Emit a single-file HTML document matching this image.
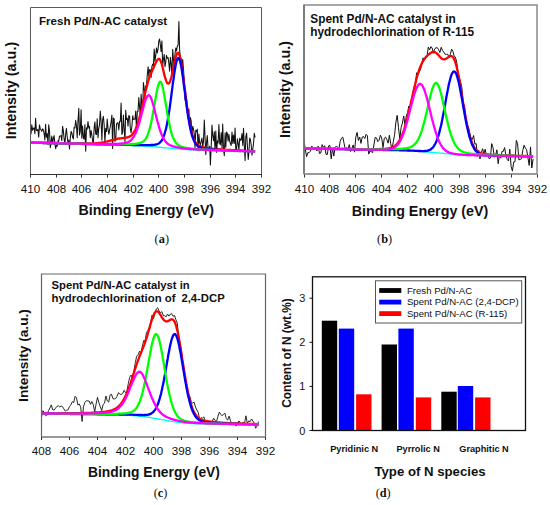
<!DOCTYPE html>
<html><head><meta charset="utf-8"><style>
html,body{margin:0;padding:0;background:#fff;}
svg{display:block;font-family:"Liberation Sans",sans-serif;}
text{fill:#111;}
</style></head><body>
<svg width="550" height="505" viewBox="0 0 550 505">
<rect width="550" height="505" fill="#fff"/>
<clipPath id="ca"><rect x="30.5" y="7.5" width="231" height="167"/></clipPath>
<g clip-path="url(#ca)">
<path d="M255.1,137.5 254.3,133.3 253.5,143.9 252.8,149.1 252.0,155.3 251.2,145.0 250.5,139.7 249.7,138.0 248.9,152.6 248.2,159.5 247.4,145.9 246.6,133.0 245.8,136.9 245.1,160.6 244.3,145.0 243.5,128.3 242.8,145.5 242.0,133.5 241.2,139.7 240.5,140.4 239.7,138.2 238.9,150.3 238.1,143.2 237.4,138.9 236.6,148.8 235.8,151.7 235.1,128.0 234.3,143.4 233.5,135.0 232.8,143.4 232.0,132.0 231.2,145.5 230.4,143.5 229.7,141.2 228.9,134.3 228.1,141.1 227.4,133.8 226.6,132.0 225.8,147.1 225.1,132.9 224.3,155.8 223.5,149.2 222.7,124.1 222.0,148.0 221.2,132.6 220.4,144.8 219.7,143.6 218.9,124.5 218.1,142.9 217.4,140.8 216.6,152.4 215.8,130.9 215.0,151.1 214.3,131.7 213.5,140.8 212.7,135.0 212.0,125.0 211.2,146.5 210.4,165.1 209.7,146.2 208.9,149.9 208.1,149.3 207.3,135.6 206.6,141.9 205.8,154.6 205.0,136.6 204.3,120.0 203.5,141.5 202.7,147.8 202.0,138.1 201.2,141.1 200.4,144.6 199.6,142.8 198.9,134.0 198.1,150.6 197.3,129.1 196.6,131.7 195.8,130.3 195.0,148.2 194.3,134.2 193.5,129.0 192.7,126.3 191.9,135.8 191.2,121.1 190.4,117.6 189.6,127.2 188.9,109.0 188.1,111.8 187.3,108.2 186.6,99.5 185.8,96.7 185.0,100.1 184.2,79.7 183.5,69.5 182.7,59.6 181.9,65.6 181.2,58.3 180.4,58.5 179.6,49.6 178.9,21.5 178.1,45.1 177.3,46.1 176.5,51.0 175.8,48.1 175.0,53.8 174.2,68.4 173.5,60.0 172.7,49.2 171.9,75.3 171.2,64.5 170.4,57.4 169.6,71.1 168.8,62.8 168.1,57.6 167.3,58.1 166.5,55.3 165.8,61.8 165.0,66.7 164.2,54.4 163.5,58.5 162.7,65.7 161.9,40.9 161.1,51.6 160.4,45.2 159.6,39.0 158.8,41.1 158.1,49.0 157.3,53.0 156.5,47.9 155.8,54.9 155.0,61.4 154.2,49.0 153.4,65.8 152.7,64.2 151.9,66.4 151.1,77.5 150.4,70.0 149.6,69.5 148.8,76.1 148.1,66.8 147.3,74.7 146.5,85.1 145.7,86.4 145.0,96.3 144.2,88.3 143.4,82.5 142.7,110.5 141.9,105.3 141.1,94.3 140.4,115.7 139.6,107.3 138.8,97.6 138.0,111.4 137.3,111.6 136.5,130.4 135.7,111.1 135.0,119.1 134.2,119.3 133.4,119.4 132.7,115.7 131.9,126.2 131.1,132.8 130.3,128.6 129.6,116.1 128.8,115.6 128.0,126.3 127.3,118.2 126.5,119.5 125.7,110.3 125.0,141.6 124.2,129.8 123.4,115.1 122.6,132.4 121.9,134.4 121.1,103.0 120.3,121.6 119.6,121.2 118.8,129.9 118.0,122.7 117.3,122.7 116.5,124.2 115.7,140.2 114.9,141.3 114.2,118.9 113.4,118.0 112.6,148.4 111.9,115.0 111.1,121.9 110.3,126.5 109.6,129.9 108.8,134.3 108.0,128.7 107.2,119.0 106.5,131.6 105.7,128.4 104.9,142.4 104.2,125.5 103.4,116.4 102.6,119.9 101.9,140.3 101.1,122.0 100.3,111.0 99.5,124.8 98.8,128.3 98.0,137.8 97.2,118.8 96.5,134.6 95.7,134.1 94.9,121.9 94.2,127.4 93.4,143.0 92.6,141.0 91.8,134.2 91.1,130.6 90.3,137.6 89.5,126.4 88.8,127.9 88.0,121.5 87.2,129.2 86.5,127.7 85.7,151.2 84.9,124.6 84.1,139.2 83.4,138.1 82.6,126.0 81.8,138.2 81.1,109.7 80.3,131.1 79.5,135.1 78.8,108.2 78.0,121.0 77.2,137.7 76.4,125.4 75.7,120.3 74.9,128.0 74.1,127.3 73.4,139.0 72.6,137.0 71.8,132.7 71.1,131.4 70.3,137.9 69.5,149.0 68.7,140.1 68.0,143.3 67.2,136.7 66.4,128.2 65.7,133.7 64.9,144.2 64.1,138.7 63.4,131.2 62.6,126.3 61.8,140.7 61.0,135.6 60.3,136.1 59.5,136.2 58.7,141.2 58.0,140.8 57.2,146.2 56.4,145.4 55.7,148.7 54.9,144.2 54.1,135.6 53.3,138.7 52.6,142.8 51.8,136.0 51.0,143.5 50.3,147.6 49.5,131.1 48.7,124.8 48.0,144.8 47.2,133.6 46.4,137.3 45.6,124.3 44.9,140.1 44.1,133.5 43.3,129.8 42.6,128.9 41.8,131.3 41.0,129.6 40.3,129.1 39.5,124.9 38.7,137.1 37.9,129.3 37.2,130.6 36.4,130.5 35.6,118.2 34.9,133.7 34.1,127.8 33.3,128.5 32.6,130.2 31.8,124.8 31.0,134.3" fill="none" stroke="#111" stroke-width="1.05" stroke-linejoin="round"/>
<path d="M255.1,151.1 254.6,151.1 254.1,151.1 253.5,151.1 253.0,151.0 252.5,151.0 252.0,151.0 251.5,151.0 251.0,151.0 250.5,150.9 249.9,150.9 249.4,150.9 248.9,150.9 248.4,150.9 247.9,150.8 247.4,150.8 246.9,150.8 246.4,150.8 245.8,150.8 245.3,150.7 244.8,150.7 244.3,150.7 243.8,150.7 243.3,150.6 242.8,150.6 242.2,150.6 241.7,150.6 241.2,150.6 240.7,150.5 240.2,150.5 239.7,150.5 239.2,150.5 238.7,150.4 238.1,150.4 237.6,150.4 237.1,150.4 236.6,150.4 236.1,150.3 235.6,150.3 235.1,150.3 234.5,150.3 234.0,150.2 233.5,150.2 233.0,150.2 232.5,150.1 232.0,150.1 231.5,150.1 231.0,150.1 230.4,150.0 229.9,150.0 229.4,150.0 228.9,150.0 228.4,149.9 227.9,149.9 227.4,149.9 226.8,149.8 226.3,149.8 225.8,149.8 225.3,149.7 224.8,149.7 224.3,149.7 223.8,149.6 223.3,149.6 222.7,149.6 222.2,149.5 221.7,149.5 221.2,149.5 220.7,149.4 220.2,149.4 219.7,149.4 219.1,149.3 218.6,149.3 218.1,149.2 217.6,149.2 217.1,149.1 216.6,149.1 216.1,149.1 215.6,149.0 215.0,149.0 214.5,148.9 214.0,148.9 213.5,148.8 213.0,148.8 212.5,148.7 212.0,148.6 211.4,148.6 210.9,148.5 210.4,148.5 209.9,148.4 209.4,148.3 208.9,148.3 208.4,148.2 207.9,148.1 207.3,148.0 206.8,148.0 206.3,147.9 205.8,147.8 205.3,147.7 204.8,147.6 204.3,147.5 203.7,147.4 203.2,147.3 202.7,147.1 202.2,147.0 201.7,146.8 201.2,146.6 200.7,146.4 200.2,146.2 199.6,146.0 199.1,145.7 198.6,145.3 198.1,145.0 197.6,144.5 197.1,144.1 196.6,143.5 196.0,142.8 195.5,142.1 195.0,141.3 194.5,140.3 194.0,139.2 193.5,138.0 193.0,136.6 192.5,135.0 191.9,133.3 191.4,131.4 190.9,129.3 190.4,126.9 189.9,124.4 189.4,121.6 188.9,118.7 188.3,115.5 187.8,112.1 187.3,108.5 186.8,104.8 186.3,100.9 185.8,96.9 185.3,92.8 184.8,88.7 184.2,84.6 183.7,80.5 183.2,76.5 182.7,72.6 182.2,68.9 181.7,65.5 181.2,62.4 180.6,59.6 180.1,57.3 179.6,55.4 179.1,54.0 178.6,53.1 178.1,52.8 177.6,52.9 177.1,53.5 176.5,54.6 176.0,56.1 175.5,57.9 175.0,60.0 174.5,62.4 174.0,64.8 173.5,67.3 172.9,69.9 172.4,72.3 171.9,74.7 171.4,76.8 170.9,78.7 170.4,80.4 169.9,81.7 169.4,82.7 168.8,83.4 168.3,83.6 167.8,83.5 167.3,83.1 166.8,82.3 166.3,81.1 165.8,79.7 165.2,78.0 164.7,76.1 164.2,74.1 163.7,72.0 163.2,69.8 162.7,67.7 162.2,65.6 161.7,63.8 161.1,62.2 160.6,60.9 160.1,59.9 159.6,59.2 159.1,58.9 158.6,58.9 158.1,59.2 157.5,59.7 157.0,60.4 156.5,61.3 156.0,62.2 155.5,63.3 155.0,64.4 154.5,65.6 154.0,66.7 153.4,67.9 152.9,69.0 152.4,70.2 151.9,71.3 151.4,72.5 150.9,73.7 150.4,74.9 149.8,76.2 149.3,77.7 148.8,79.2 148.3,80.8 147.8,82.5 147.3,84.4 146.8,86.4 146.3,88.4 145.7,90.6 145.2,92.8 144.7,95.1 144.2,97.4 143.7,99.7 143.2,102.1 142.7,104.4 142.1,106.7 141.6,108.9 141.1,111.1 140.6,113.2 140.1,115.3 139.6,117.2 139.1,119.1 138.6,120.9 138.0,122.6 137.5,124.1 137.0,125.6 136.5,127.0 136.0,128.2 135.5,129.4 135.0,130.4 134.4,131.4 133.9,132.2 133.4,133.0 132.9,133.7 132.4,134.3 131.9,134.9 131.4,135.3 130.9,135.7 130.3,136.1 129.8,136.4 129.3,136.7 128.8,136.9 128.3,137.1 127.8,137.3 127.3,137.4 126.7,137.5 126.2,137.6 125.7,137.7 125.2,137.8 124.7,137.8 124.2,137.9 123.7,138.0 123.2,138.0 122.6,138.1 122.1,138.1 121.6,138.2 121.1,138.3 120.6,138.3 120.1,138.4 119.6,138.5 119.0,138.5 118.5,138.6 118.0,138.7 117.5,138.8 117.0,138.9 116.5,139.0 116.0,139.2 115.5,139.3 114.9,139.4 114.4,139.5 113.9,139.7 113.4,139.8 112.9,139.9 112.4,140.1 111.9,140.2 111.3,140.4 110.8,140.5 110.3,140.6 109.8,140.8 109.3,140.9 108.8,141.1 108.3,141.2 107.8,141.3 107.2,141.5 106.7,141.6 106.2,141.7 105.7,141.8 105.2,142.0 104.7,142.1 104.2,142.2 103.6,142.3 103.1,142.4 102.6,142.5 102.1,142.5 101.6,142.6 101.1,142.7 100.6,142.8 100.1,142.8 99.5,142.9 99.0,143.0 98.5,143.0 98.0,143.1 97.5,143.1 97.0,143.2 96.5,143.2 95.9,143.2 95.4,143.3 94.9,143.3 94.4,143.3 93.9,143.3 93.4,143.4 92.9,143.4 92.4,143.4 91.8,143.4 91.3,143.4 90.8,143.4 90.3,143.4 89.8,143.4 89.3,143.4 88.8,143.5 88.2,143.5 87.7,143.5 87.2,143.5 86.7,143.5 86.2,143.5 85.7,143.5 85.2,143.5 84.7,143.5 84.1,143.5 83.6,143.5 83.1,143.5 82.6,143.4 82.1,143.4 81.6,143.4 81.1,143.4 80.5,143.4 80.0,143.4 79.5,143.4 79.0,143.4 78.5,143.4 78.0,143.4 77.5,143.4 77.0,143.4 76.4,143.4 75.9,143.4 75.4,143.4 74.9,143.4 74.4,143.4 73.9,143.3 73.4,143.3 72.8,143.3 72.3,143.3 71.8,143.3 71.3,143.3 70.8,143.3 70.3,143.3 69.8,143.3 69.3,143.3 68.7,143.3 68.2,143.3 67.7,143.2 67.2,143.2 66.7,143.2 66.2,143.2 65.7,143.2 65.1,143.2 64.6,143.2 64.1,143.2 63.6,143.2 63.1,143.2 62.6,143.2 62.1,143.2 61.6,143.1 61.0,143.1 60.5,143.1 60.0,143.1 59.5,143.1 59.0,143.1 58.5,143.1 58.0,143.1 57.4,143.1 56.9,143.1 56.4,143.0 55.9,143.0 55.4,143.0 54.9,143.0 54.4,143.0 53.9,143.0 53.3,143.0 52.8,143.0 52.3,143.0 51.8,143.0 51.3,142.9 50.8,142.9 50.3,142.9 49.7,142.9 49.2,142.9 48.7,142.9 48.2,142.9 47.7,142.9 47.2,142.9 46.7,142.8 46.2,142.8 45.6,142.8 45.1,142.8 44.6,142.8 44.1,142.8 43.6,142.8 43.1,142.8 42.6,142.8 42.0,142.7 41.5,142.7 41.0,142.7 40.5,142.7 40.0,142.7 39.5,142.7 39.0,142.7 38.5,142.7 37.9,142.7 37.4,142.6 36.9,142.6 36.4,142.6 35.9,142.6 35.4,142.6 34.9,142.6 34.3,142.6 33.8,142.6 33.3,142.6 32.8,142.5 32.3,142.5 31.8,142.5 31.3,142.5 30.8,142.5" fill="none" stroke="#ff0000" stroke-width="2.3"/>
<path d="M255.1,151.6 254.6,151.5 254.1,151.5 253.5,151.5 253.0,151.5 252.5,151.5 252.0,151.5 251.5,151.5 251.0,151.4 250.5,151.4 249.9,151.4 249.4,151.4 248.9,151.4 248.4,151.4 247.9,151.4 247.4,151.4 246.9,151.3 246.4,151.3 245.8,151.3 245.3,151.3 244.8,151.3 244.3,151.3 243.8,151.3 243.3,151.2 242.8,151.2 242.2,151.2 241.7,151.2 241.2,151.2 240.7,151.2 240.2,151.2 239.7,151.2 239.2,151.1 238.7,151.1 238.1,151.1 237.6,151.1 237.1,151.1 236.6,151.1 236.1,151.1 235.6,151.0 235.1,151.0 234.5,151.0 234.0,151.0 233.5,151.0 233.0,151.0 232.5,151.0 232.0,150.9 231.5,150.9 231.0,150.9 230.4,150.9 229.9,150.9 229.4,150.9 228.9,150.9 228.4,150.9 227.9,150.8 227.4,150.8 226.8,150.8 226.3,150.8 225.8,150.8 225.3,150.8 224.8,150.8 224.3,150.7 223.8,150.7 223.3,150.7 222.7,150.7 222.2,150.7 221.7,150.7 221.2,150.7 220.7,150.6 220.2,150.6 219.7,150.6 219.1,150.6 218.6,150.6 218.1,150.6 217.6,150.6 217.1,150.6 216.6,150.5 216.1,150.5 215.6,150.5 215.0,150.5 214.5,150.5 214.0,150.5 213.5,150.5 213.0,150.4 212.5,150.4 212.0,150.4 211.4,150.4 210.9,150.4 210.4,150.4 209.9,150.4 209.4,150.3 208.9,150.3 208.4,150.3 207.9,150.3 207.3,150.3 206.8,150.3 206.3,150.3 205.8,150.2 205.3,150.2 204.8,150.2 204.3,150.2 203.7,150.2 203.2,150.2 202.7,150.2 202.2,150.1 201.7,150.1 201.2,150.1 200.7,150.1 200.2,150.1 199.6,150.1 199.1,150.1 198.6,150.0 198.1,150.0 197.6,150.0 197.1,150.0 196.6,150.0 196.0,150.0 195.5,149.9 195.0,149.9 194.5,149.9 194.0,149.9 193.5,149.9 193.0,149.9 192.5,149.8 191.9,149.8 191.4,149.8 190.9,149.8 190.4,149.8 189.9,149.7 189.4,149.7 188.9,149.7 188.3,149.7 187.8,149.6 187.3,149.6 186.8,149.6 186.3,149.5 185.8,149.5 185.3,149.5 184.8,149.4 184.2,149.4 183.7,149.4 183.2,149.3 182.7,149.3 182.2,149.2 181.7,149.2 181.2,149.1 180.6,149.1 180.1,149.0 179.6,149.0 179.1,148.9 178.6,148.9 178.1,148.8 177.6,148.8 177.1,148.7 176.5,148.7 176.0,148.7 175.5,148.6 175.0,148.6 174.5,148.5 174.0,148.5 173.5,148.4 172.9,148.4 172.4,148.3 171.9,148.3 171.4,148.2 170.9,148.2 170.4,148.2 169.9,148.1 169.4,148.1 168.8,148.1 168.3,148.0 167.8,148.0 167.3,147.9 166.8,147.9 166.3,147.9 165.8,147.8 165.2,147.8 164.7,147.7 164.2,147.7 163.7,147.7 163.2,147.6 162.7,147.6 162.2,147.5 161.7,147.5 161.1,147.4 160.6,147.4 160.1,147.3 159.6,147.3 159.1,147.2 158.6,147.2 158.1,147.2 157.5,147.1 157.0,147.1 156.5,147.0 156.0,147.0 155.5,146.9 155.0,146.9 154.5,146.8 154.0,146.8 153.4,146.7 152.9,146.7 152.4,146.7 151.9,146.6 151.4,146.6 150.9,146.5 150.4,146.5 149.8,146.4 149.3,146.4 148.8,146.4 148.3,146.3 147.8,146.3 147.3,146.3 146.8,146.2 146.3,146.2 145.7,146.1 145.2,146.1 144.7,146.1 144.2,146.0 143.7,146.0 143.2,146.0 142.7,146.0 142.1,145.9 141.6,145.9 141.1,145.9 140.6,145.8 140.1,145.8 139.6,145.8 139.1,145.8 138.6,145.7 138.0,145.7 137.5,145.7 137.0,145.7 136.5,145.7 136.0,145.6 135.5,145.6 135.0,145.6 134.4,145.6 133.9,145.6 133.4,145.5 132.9,145.5 132.4,145.5 131.9,145.5 131.4,145.5 130.9,145.5 130.3,145.4 129.8,145.4 129.3,145.4 128.8,145.4 128.3,145.4 127.8,145.4 127.3,145.3 126.7,145.3 126.2,145.3 125.7,145.3 125.2,145.3 124.7,145.3 124.2,145.2 123.7,145.2 123.2,145.2 122.6,145.2 122.1,145.2 121.6,145.2 121.1,145.1 120.6,145.1 120.1,145.1 119.6,145.1 119.0,145.1 118.5,145.1 118.0,145.1 117.5,145.0 117.0,145.0 116.5,145.0 116.0,145.0 115.5,145.0 114.9,145.0 114.4,144.9 113.9,144.9 113.4,144.9 112.9,144.9 112.4,144.9 111.9,144.9 111.3,144.9 110.8,144.8 110.3,144.8 109.8,144.8 109.3,144.8 108.8,144.8 108.3,144.8 107.8,144.7 107.2,144.7 106.7,144.7 106.2,144.7 105.7,144.7 105.2,144.7 104.7,144.7 104.2,144.6 103.6,144.6 103.1,144.6 102.6,144.6 102.1,144.6 101.6,144.6 101.1,144.6 100.6,144.6 100.1,144.5 99.5,144.5 99.0,144.5 98.5,144.5 98.0,144.5 97.5,144.5 97.0,144.5 96.5,144.4 95.9,144.4 95.4,144.4 94.9,144.4 94.4,144.4 93.9,144.4 93.4,144.4 92.9,144.3 92.4,144.3 91.8,144.3 91.3,144.3 90.8,144.3 90.3,144.3 89.8,144.3 89.3,144.2 88.8,144.2 88.2,144.2 87.7,144.2 87.2,144.2 86.7,144.2 86.2,144.2 85.7,144.2 85.2,144.1 84.7,144.1 84.1,144.1 83.6,144.1 83.1,144.1 82.6,144.1 82.1,144.1 81.6,144.0 81.1,144.0 80.5,144.0 80.0,144.0 79.5,144.0 79.0,144.0 78.5,144.0 78.0,144.0 77.5,143.9 77.0,143.9 76.4,143.9 75.9,143.9 75.4,143.9 74.9,143.9 74.4,143.9 73.9,143.8 73.4,143.8 72.8,143.8 72.3,143.8 71.8,143.8 71.3,143.8 70.8,143.8 70.3,143.7 69.8,143.7 69.3,143.7 68.7,143.7 68.2,143.7 67.7,143.7 67.2,143.7 66.7,143.7 66.2,143.6 65.7,143.6 65.1,143.6 64.6,143.6 64.1,143.6 63.6,143.6 63.1,143.6 62.6,143.5 62.1,143.5 61.6,143.5 61.0,143.5 60.5,143.5 60.0,143.5 59.5,143.5 59.0,143.5 58.5,143.4 58.0,143.4 57.4,143.4 56.9,143.4 56.4,143.4 55.9,143.4 55.4,143.4 54.9,143.3 54.4,143.3 53.9,143.3 53.3,143.3 52.8,143.3 52.3,143.3 51.8,143.3 51.3,143.3 50.8,143.2 50.3,143.2 49.7,143.2 49.2,143.2 48.7,143.2 48.2,143.2 47.7,143.2 47.2,143.1 46.7,143.1 46.2,143.1 45.6,143.1 45.1,143.1 44.6,143.1 44.1,143.1 43.6,143.1 43.1,143.0 42.6,143.0 42.0,143.0 41.5,143.0 41.0,143.0 40.5,143.0 40.0,143.0 39.5,142.9 39.0,142.9 38.5,142.9 37.9,142.9 37.4,142.9 36.9,142.9 36.4,142.9 35.9,142.9 35.4,142.8 34.9,142.8 34.3,142.8 33.8,142.8 33.3,142.8 32.8,142.8 32.3,142.8 31.8,142.7 31.3,142.7 30.8,142.7" fill="none" stroke="#00ffff" stroke-width="1.4"/>
<path d="M255.1,151.4 254.6,151.3 254.1,151.3 253.5,151.3 253.0,151.3 252.5,151.3 252.0,151.3 251.5,151.2 251.0,151.2 250.5,151.2 249.9,151.2 249.4,151.2 248.9,151.2 248.4,151.1 247.9,151.1 247.4,151.1 246.9,151.1 246.4,151.1 245.8,151.1 245.3,151.0 244.8,151.0 244.3,151.0 243.8,151.0 243.3,151.0 242.8,150.9 242.2,150.9 241.7,150.9 241.2,150.9 240.7,150.9 240.2,150.9 239.7,150.8 239.2,150.8 238.7,150.8 238.1,150.8 237.6,150.8 237.1,150.7 236.6,150.7 236.1,150.7 235.6,150.7 235.1,150.7 234.5,150.6 234.0,150.6 233.5,150.6 233.0,150.6 232.5,150.6 232.0,150.5 231.5,150.5 231.0,150.5 230.4,150.5 229.9,150.5 229.4,150.4 228.9,150.4 228.4,150.4 227.9,150.4 227.4,150.3 226.8,150.3 226.3,150.3 225.8,150.3 225.3,150.2 224.8,150.2 224.3,150.2 223.8,150.2 223.3,150.1 222.7,150.1 222.2,150.1 221.7,150.1 221.2,150.0 220.7,150.0 220.2,150.0 219.7,149.9 219.1,149.9 218.6,149.9 218.1,149.8 217.6,149.8 217.1,149.8 216.6,149.7 216.1,149.7 215.6,149.7 215.0,149.6 214.5,149.6 214.0,149.6 213.5,149.5 213.0,149.5 212.5,149.4 212.0,149.4 211.4,149.4 210.9,149.3 210.4,149.3 209.9,149.2 209.4,149.2 208.9,149.1 208.4,149.1 207.9,149.0 207.3,148.9 206.8,148.9 206.3,148.8 205.8,148.7 205.3,148.7 204.8,148.6 204.3,148.5 203.7,148.4 203.2,148.3 202.7,148.2 202.2,148.1 201.7,147.9 201.2,147.8 200.7,147.6 200.2,147.4 199.6,147.2 199.1,146.9 198.6,146.6 198.1,146.3 197.6,145.9 197.1,145.4 196.6,144.9 196.0,144.3 195.5,143.6 195.0,142.8 194.5,141.9 194.0,140.8 193.5,139.6 193.0,138.3 192.5,136.8 191.9,135.1 191.4,133.2 190.9,131.2 190.4,128.9 189.9,126.4 189.4,123.7 188.9,120.8 188.3,117.7 187.8,114.4 187.3,110.9 186.8,107.2 186.3,103.4 185.8,99.5 185.3,95.5 184.8,91.5 184.2,87.5 183.7,83.5 183.2,79.6 182.7,75.9 182.2,72.3 181.7,69.1 181.2,66.1 180.6,63.6 180.1,61.5 179.6,59.8 179.1,58.7 178.6,58.1 178.1,58.1 177.6,58.7 177.1,59.8 176.5,61.4 176.0,63.5 175.5,66.1 175.0,69.0 174.5,72.2 174.0,75.7 173.5,79.3 172.9,83.2 172.4,87.1 171.9,91.0 171.4,95.0 170.9,98.9 170.4,102.7 169.9,106.4 169.4,110.0 168.8,113.4 168.3,116.6 167.8,119.6 167.3,122.4 166.8,125.0 166.3,127.4 165.8,129.6 165.2,131.5 164.7,133.3 164.2,134.9 163.7,136.3 163.2,137.6 162.7,138.7 162.2,139.6 161.7,140.5 161.1,141.2 160.6,141.8 160.1,142.4 159.6,142.8 159.1,143.2 158.6,143.5 158.1,143.8 157.5,144.0 157.0,144.2 156.5,144.4 156.0,144.5 155.5,144.6 155.0,144.7 154.5,144.8 154.0,144.9 153.4,144.9 152.9,144.9 152.4,145.0 151.9,145.0 151.4,145.0 150.9,145.0 150.4,145.1 149.8,145.1 149.3,145.1 148.8,145.1 148.3,145.1 147.8,145.1 147.3,145.1 146.8,145.1 146.3,145.1 145.7,145.1 145.2,145.1 144.7,145.1 144.2,145.1 143.7,145.1 143.2,145.1 142.7,145.1 142.1,145.1 141.6,145.0 141.1,145.0 140.6,145.0 140.1,145.0 139.6,145.0 139.1,145.0 138.6,145.0 138.0,145.0 137.5,145.0 137.0,145.0 136.5,145.0 136.0,145.0 135.5,145.0 135.0,145.0 134.4,145.0 133.9,145.0 133.4,145.0 132.9,145.0 132.4,145.0 131.9,145.0 131.4,144.9 130.9,144.9 130.3,144.9 129.8,144.9 129.3,144.9 128.8,144.9 128.3,144.9 127.8,144.9 127.3,144.9 126.7,144.9 126.2,144.9 125.7,144.9 125.2,144.9 124.7,144.9 124.2,144.8 123.7,144.8 123.2,144.8 122.6,144.8 122.1,144.8 121.6,144.8 121.1,144.8 120.6,144.8 120.1,144.8 119.6,144.8 119.0,144.7 118.5,144.7 118.0,144.7 117.5,144.7 117.0,144.7 116.5,144.7 116.0,144.7 115.5,144.7 114.9,144.7 114.4,144.7 113.9,144.6 113.4,144.6 112.9,144.6 112.4,144.6 111.9,144.6 111.3,144.6 110.8,144.6 110.3,144.6 109.8,144.6 109.3,144.5 108.8,144.5 108.3,144.5 107.8,144.5 107.2,144.5 106.7,144.5 106.2,144.5 105.7,144.5 105.2,144.5 104.7,144.4 104.2,144.4 103.6,144.4 103.1,144.4 102.6,144.4 102.1,144.4 101.6,144.4 101.1,144.4 100.6,144.4 100.1,144.3 99.5,144.3 99.0,144.3 98.5,144.3 98.0,144.3 97.5,144.3 97.0,144.3 96.5,144.3 95.9,144.3 95.4,144.2 94.9,144.2 94.4,144.2 93.9,144.2 93.4,144.2 92.9,144.2 92.4,144.2 91.8,144.2 91.3,144.1 90.8,144.1 90.3,144.1 89.8,144.1 89.3,144.1 88.8,144.1 88.2,144.1 87.7,144.1 87.2,144.1 86.7,144.0 86.2,144.0 85.7,144.0 85.2,144.0 84.7,144.0 84.1,144.0 83.6,144.0 83.1,144.0 82.6,143.9 82.1,143.9 81.6,143.9 81.1,143.9 80.5,143.9 80.0,143.9 79.5,143.9 79.0,143.9 78.5,143.8 78.0,143.8 77.5,143.8 77.0,143.8 76.4,143.8 75.9,143.8 75.4,143.8 74.9,143.8 74.4,143.7 73.9,143.7 73.4,143.7 72.8,143.7 72.3,143.7 71.8,143.7 71.3,143.7 70.8,143.7 70.3,143.6 69.8,143.6 69.3,143.6 68.7,143.6 68.2,143.6 67.7,143.6 67.2,143.6 66.7,143.6 66.2,143.5 65.7,143.5 65.1,143.5 64.6,143.5 64.1,143.5 63.6,143.5 63.1,143.5 62.6,143.5 62.1,143.4 61.6,143.4 61.0,143.4 60.5,143.4 60.0,143.4 59.5,143.4 59.0,143.4 58.5,143.4 58.0,143.3 57.4,143.3 56.9,143.3 56.4,143.3 55.9,143.3 55.4,143.3 54.9,143.3 54.4,143.3 53.9,143.2 53.3,143.2 52.8,143.2 52.3,143.2 51.8,143.2 51.3,143.2 50.8,143.2 50.3,143.2 49.7,143.1 49.2,143.1 48.7,143.1 48.2,143.1 47.7,143.1 47.2,143.1 46.7,143.1 46.2,143.0 45.6,143.0 45.1,143.0 44.6,143.0 44.1,143.0 43.6,143.0 43.1,143.0 42.6,143.0 42.0,142.9 41.5,142.9 41.0,142.9 40.5,142.9 40.0,142.9 39.5,142.9 39.0,142.9 38.5,142.9 37.9,142.8 37.4,142.8 36.9,142.8 36.4,142.8 35.9,142.8 35.4,142.8 34.9,142.8 34.3,142.8 33.8,142.7 33.3,142.7 32.8,142.7 32.3,142.7 31.8,142.7 31.3,142.7 30.8,142.7" fill="none" stroke="#0000ff" stroke-width="2.3"/>
<path d="M255.1,151.4 254.6,151.4 254.1,151.4 253.5,151.4 253.0,151.4 252.5,151.3 252.0,151.3 251.5,151.3 251.0,151.3 250.5,151.3 249.9,151.3 249.4,151.3 248.9,151.2 248.4,151.2 247.9,151.2 247.4,151.2 246.9,151.2 246.4,151.2 245.8,151.2 245.3,151.1 244.8,151.1 244.3,151.1 243.8,151.1 243.3,151.1 242.8,151.1 242.2,151.0 241.7,151.0 241.2,151.0 240.7,151.0 240.2,151.0 239.7,151.0 239.2,150.9 238.7,150.9 238.1,150.9 237.6,150.9 237.1,150.9 236.6,150.9 236.1,150.8 235.6,150.8 235.1,150.8 234.5,150.8 234.0,150.8 233.5,150.8 233.0,150.8 232.5,150.7 232.0,150.7 231.5,150.7 231.0,150.7 230.4,150.7 229.9,150.6 229.4,150.6 228.9,150.6 228.4,150.6 227.9,150.6 227.4,150.6 226.8,150.5 226.3,150.5 225.8,150.5 225.3,150.5 224.8,150.5 224.3,150.5 223.8,150.4 223.3,150.4 222.7,150.4 222.2,150.4 221.7,150.4 221.2,150.3 220.7,150.3 220.2,150.3 219.7,150.3 219.1,150.3 218.6,150.2 218.1,150.2 217.6,150.2 217.1,150.2 216.6,150.2 216.1,150.1 215.6,150.1 215.0,150.1 214.5,150.1 214.0,150.1 213.5,150.0 213.0,150.0 212.5,150.0 212.0,150.0 211.4,149.9 210.9,149.9 210.4,149.9 209.9,149.9 209.4,149.9 208.9,149.8 208.4,149.8 207.9,149.8 207.3,149.8 206.8,149.7 206.3,149.7 205.8,149.7 205.3,149.7 204.8,149.6 204.3,149.6 203.7,149.6 203.2,149.5 202.7,149.5 202.2,149.5 201.7,149.4 201.2,149.4 200.7,149.4 200.2,149.4 199.6,149.3 199.1,149.3 198.6,149.3 198.1,149.2 197.6,149.2 197.1,149.1 196.6,149.1 196.0,149.1 195.5,149.0 195.0,149.0 194.5,148.9 194.0,148.9 193.5,148.8 193.0,148.8 192.5,148.7 191.9,148.7 191.4,148.6 190.9,148.6 190.4,148.5 189.9,148.4 189.4,148.4 188.9,148.3 188.3,148.2 187.8,148.2 187.3,148.1 186.8,148.0 186.3,147.9 185.8,147.8 185.3,147.7 184.8,147.6 184.2,147.5 183.7,147.3 183.2,147.2 182.7,147.1 182.2,146.9 181.7,146.7 181.2,146.5 180.6,146.3 180.1,146.1 179.6,145.8 179.1,145.5 178.6,145.2 178.1,144.9 177.6,144.4 177.1,144.0 176.5,143.4 176.0,142.8 175.5,142.2 175.0,141.4 174.5,140.5 174.0,139.5 173.5,138.4 172.9,137.2 172.4,135.8 171.9,134.3 171.4,132.6 170.9,130.7 170.4,128.7 169.9,126.5 169.4,124.1 168.8,121.6 168.3,118.9 167.8,116.1 167.3,113.2 166.8,110.2 166.3,107.1 165.8,104.0 165.2,100.9 164.7,97.8 164.2,94.9 163.7,92.1 163.2,89.5 162.7,87.2 162.2,85.2 161.7,83.7 161.1,82.5 160.6,81.9 160.1,81.8 159.6,82.1 159.1,83.0 158.6,84.3 158.1,86.0 157.5,88.1 157.0,90.5 156.5,93.1 156.0,95.9 155.5,98.8 155.0,101.8 154.5,104.9 154.0,107.9 153.4,110.8 152.9,113.7 152.4,116.5 151.9,119.1 151.4,121.6 150.9,124.0 150.4,126.2 149.8,128.2 149.3,130.0 148.8,131.7 148.3,133.2 147.8,134.6 147.3,135.8 146.8,136.9 146.3,137.8 145.7,138.7 145.2,139.4 144.7,140.0 144.2,140.6 143.7,141.1 143.2,141.5 142.7,141.8 142.1,142.1 141.6,142.4 141.1,142.6 140.6,142.8 140.1,143.0 139.6,143.1 139.1,143.2 138.6,143.4 138.0,143.5 137.5,143.5 137.0,143.6 136.5,143.7 136.0,143.7 135.5,143.8 135.0,143.9 134.4,143.9 133.9,143.9 133.4,144.0 132.9,144.0 132.4,144.1 131.9,144.1 131.4,144.1 130.9,144.1 130.3,144.2 129.8,144.2 129.3,144.2 128.8,144.2 128.3,144.3 127.8,144.3 127.3,144.3 126.7,144.3 126.2,144.3 125.7,144.3 125.2,144.3 124.7,144.3 124.2,144.4 123.7,144.4 123.2,144.4 122.6,144.4 122.1,144.4 121.6,144.4 121.1,144.4 120.6,144.4 120.1,144.4 119.6,144.4 119.0,144.4 118.5,144.4 118.0,144.4 117.5,144.4 117.0,144.4 116.5,144.4 116.0,144.4 115.5,144.4 114.9,144.4 114.4,144.4 113.9,144.4 113.4,144.4 112.9,144.4 112.4,144.4 111.9,144.4 111.3,144.4 110.8,144.4 110.3,144.4 109.8,144.3 109.3,144.3 108.8,144.3 108.3,144.3 107.8,144.3 107.2,144.3 106.7,144.3 106.2,144.3 105.7,144.3 105.2,144.3 104.7,144.3 104.2,144.3 103.6,144.3 103.1,144.3 102.6,144.3 102.1,144.2 101.6,144.2 101.1,144.2 100.6,144.2 100.1,144.2 99.5,144.2 99.0,144.2 98.5,144.2 98.0,144.2 97.5,144.2 97.0,144.2 96.5,144.1 95.9,144.1 95.4,144.1 94.9,144.1 94.4,144.1 93.9,144.1 93.4,144.1 92.9,144.1 92.4,144.1 91.8,144.1 91.3,144.1 90.8,144.0 90.3,144.0 89.8,144.0 89.3,144.0 88.8,144.0 88.2,144.0 87.7,144.0 87.2,144.0 86.7,144.0 86.2,143.9 85.7,143.9 85.2,143.9 84.7,143.9 84.1,143.9 83.6,143.9 83.1,143.9 82.6,143.9 82.1,143.9 81.6,143.9 81.1,143.8 80.5,143.8 80.0,143.8 79.5,143.8 79.0,143.8 78.5,143.8 78.0,143.8 77.5,143.8 77.0,143.8 76.4,143.7 75.9,143.7 75.4,143.7 74.9,143.7 74.4,143.7 73.9,143.7 73.4,143.7 72.8,143.7 72.3,143.6 71.8,143.6 71.3,143.6 70.8,143.6 70.3,143.6 69.8,143.6 69.3,143.6 68.7,143.6 68.2,143.6 67.7,143.5 67.2,143.5 66.7,143.5 66.2,143.5 65.7,143.5 65.1,143.5 64.6,143.5 64.1,143.5 63.6,143.4 63.1,143.4 62.6,143.4 62.1,143.4 61.6,143.4 61.0,143.4 60.5,143.4 60.0,143.4 59.5,143.3 59.0,143.3 58.5,143.3 58.0,143.3 57.4,143.3 56.9,143.3 56.4,143.3 55.9,143.3 55.4,143.3 54.9,143.2 54.4,143.2 53.9,143.2 53.3,143.2 52.8,143.2 52.3,143.2 51.8,143.2 51.3,143.2 50.8,143.1 50.3,143.1 49.7,143.1 49.2,143.1 48.7,143.1 48.2,143.1 47.7,143.1 47.2,143.1 46.7,143.0 46.2,143.0 45.6,143.0 45.1,143.0 44.6,143.0 44.1,143.0 43.6,143.0 43.1,143.0 42.6,142.9 42.0,142.9 41.5,142.9 41.0,142.9 40.5,142.9 40.0,142.9 39.5,142.9 39.0,142.8 38.5,142.8 37.9,142.8 37.4,142.8 36.9,142.8 36.4,142.8 35.9,142.8 35.4,142.8 34.9,142.7 34.3,142.7 33.8,142.7 33.3,142.7 32.8,142.7 32.3,142.7 31.8,142.7 31.3,142.7 30.8,142.6" fill="none" stroke="#00ff00" stroke-width="2.3"/>
<path d="M255.1,151.4 254.6,151.4 254.1,151.4 253.5,151.4 253.0,151.4 252.5,151.4 252.0,151.4 251.5,151.3 251.0,151.3 250.5,151.3 249.9,151.3 249.4,151.3 248.9,151.3 248.4,151.3 247.9,151.2 247.4,151.2 246.9,151.2 246.4,151.2 245.8,151.2 245.3,151.2 244.8,151.1 244.3,151.1 243.8,151.1 243.3,151.1 242.8,151.1 242.2,151.1 241.7,151.1 241.2,151.0 240.7,151.0 240.2,151.0 239.7,151.0 239.2,151.0 238.7,151.0 238.1,151.0 237.6,150.9 237.1,150.9 236.6,150.9 236.1,150.9 235.6,150.9 235.1,150.9 234.5,150.8 234.0,150.8 233.5,150.8 233.0,150.8 232.5,150.8 232.0,150.8 231.5,150.7 231.0,150.7 230.4,150.7 229.9,150.7 229.4,150.7 228.9,150.7 228.4,150.7 227.9,150.6 227.4,150.6 226.8,150.6 226.3,150.6 225.8,150.6 225.3,150.6 224.8,150.5 224.3,150.5 223.8,150.5 223.3,150.5 222.7,150.5 222.2,150.5 221.7,150.4 221.2,150.4 220.7,150.4 220.2,150.4 219.7,150.4 219.1,150.3 218.6,150.3 218.1,150.3 217.6,150.3 217.1,150.3 216.6,150.3 216.1,150.2 215.6,150.2 215.0,150.2 214.5,150.2 214.0,150.2 213.5,150.2 213.0,150.1 212.5,150.1 212.0,150.1 211.4,150.1 210.9,150.1 210.4,150.0 209.9,150.0 209.4,150.0 208.9,150.0 208.4,150.0 207.9,149.9 207.3,149.9 206.8,149.9 206.3,149.9 205.8,149.9 205.3,149.8 204.8,149.8 204.3,149.8 203.7,149.8 203.2,149.7 202.7,149.7 202.2,149.7 201.7,149.7 201.2,149.7 200.7,149.6 200.2,149.6 199.6,149.6 199.1,149.6 198.6,149.5 198.1,149.5 197.6,149.5 197.1,149.5 196.6,149.4 196.0,149.4 195.5,149.4 195.0,149.3 194.5,149.3 194.0,149.3 193.5,149.3 193.0,149.2 192.5,149.2 191.9,149.2 191.4,149.1 190.9,149.1 190.4,149.0 189.9,149.0 189.4,149.0 188.9,148.9 188.3,148.9 187.8,148.8 187.3,148.8 186.8,148.7 186.3,148.7 185.8,148.6 185.3,148.6 184.8,148.5 184.2,148.4 183.7,148.4 183.2,148.3 182.7,148.2 182.2,148.2 181.7,148.1 181.2,148.0 180.6,147.9 180.1,147.8 179.6,147.7 179.1,147.6 178.6,147.6 178.1,147.5 177.6,147.4 177.1,147.3 176.5,147.1 176.0,147.0 175.5,146.9 175.0,146.8 174.5,146.7 174.0,146.5 173.5,146.4 172.9,146.3 172.4,146.1 171.9,145.9 171.4,145.7 170.9,145.5 170.4,145.3 169.9,145.1 169.4,144.8 168.8,144.5 168.3,144.1 167.8,143.8 167.3,143.4 166.8,142.9 166.3,142.4 165.8,141.8 165.2,141.2 164.7,140.5 164.2,139.7 163.7,138.9 163.2,137.9 162.7,136.9 162.2,135.8 161.7,134.6 161.1,133.3 160.6,131.9 160.1,130.5 159.6,128.9 159.1,127.2 158.6,125.5 158.1,123.7 157.5,121.8 157.0,119.8 156.5,117.8 156.0,115.8 155.5,113.7 155.0,111.7 154.5,109.6 154.0,107.6 153.4,105.7 152.9,103.8 152.4,102.0 151.9,100.4 151.4,99.0 150.9,97.8 150.4,96.8 149.8,96.0 149.3,95.5 148.8,95.2 148.3,95.3 147.8,95.6 147.3,96.2 146.8,97.0 146.3,98.1 145.7,99.4 145.2,100.9 144.7,102.5 144.2,104.2 143.7,106.1 143.2,108.0 142.7,109.9 142.1,111.9 141.6,113.9 141.1,115.9 140.6,117.8 140.1,119.7 139.6,121.6 139.1,123.4 138.6,125.1 138.0,126.7 137.5,128.2 137.0,129.7 136.5,131.0 136.0,132.3 135.5,133.5 135.0,134.5 134.4,135.5 133.9,136.4 133.4,137.2 132.9,138.0 132.4,138.6 131.9,139.2 131.4,139.8 130.9,140.3 130.3,140.7 129.8,141.1 129.3,141.4 128.8,141.7 128.3,142.0 127.8,142.2 127.3,142.4 126.7,142.6 126.2,142.7 125.7,142.9 125.2,143.0 124.7,143.1 124.2,143.2 123.7,143.3 123.2,143.3 122.6,143.4 122.1,143.5 121.6,143.5 121.1,143.6 120.6,143.6 120.1,143.7 119.6,143.7 119.0,143.7 118.5,143.8 118.0,143.8 117.5,143.8 117.0,143.8 116.5,143.8 116.0,143.9 115.5,143.9 114.9,143.9 114.4,143.9 113.9,143.9 113.4,143.9 112.9,143.9 112.4,144.0 111.9,144.0 111.3,144.0 110.8,144.0 110.3,144.0 109.8,144.0 109.3,144.0 108.8,144.0 108.3,144.0 107.8,144.0 107.2,144.0 106.7,144.0 106.2,144.0 105.7,144.0 105.2,144.0 104.7,144.0 104.2,144.0 103.6,144.0 103.1,144.0 102.6,144.0 102.1,144.0 101.6,144.0 101.1,144.0 100.6,144.0 100.1,144.0 99.5,144.0 99.0,144.0 98.5,144.0 98.0,144.0 97.5,144.0 97.0,144.0 96.5,144.0 95.9,144.0 95.4,144.0 94.9,144.0 94.4,144.0 93.9,144.0 93.4,143.9 92.9,143.9 92.4,143.9 91.8,143.9 91.3,143.9 90.8,143.9 90.3,143.9 89.8,143.9 89.3,143.9 88.8,143.9 88.2,143.9 87.7,143.9 87.2,143.9 86.7,143.9 86.2,143.8 85.7,143.8 85.2,143.8 84.7,143.8 84.1,143.8 83.6,143.8 83.1,143.8 82.6,143.8 82.1,143.8 81.6,143.8 81.1,143.8 80.5,143.7 80.0,143.7 79.5,143.7 79.0,143.7 78.5,143.7 78.0,143.7 77.5,143.7 77.0,143.7 76.4,143.7 75.9,143.7 75.4,143.6 74.9,143.6 74.4,143.6 73.9,143.6 73.4,143.6 72.8,143.6 72.3,143.6 71.8,143.6 71.3,143.6 70.8,143.6 70.3,143.5 69.8,143.5 69.3,143.5 68.7,143.5 68.2,143.5 67.7,143.5 67.2,143.5 66.7,143.5 66.2,143.5 65.7,143.4 65.1,143.4 64.6,143.4 64.1,143.4 63.6,143.4 63.1,143.4 62.6,143.4 62.1,143.4 61.6,143.4 61.0,143.3 60.5,143.3 60.0,143.3 59.5,143.3 59.0,143.3 58.5,143.3 58.0,143.3 57.4,143.3 56.9,143.2 56.4,143.2 55.9,143.2 55.4,143.2 54.9,143.2 54.4,143.2 53.9,143.2 53.3,143.2 52.8,143.2 52.3,143.1 51.8,143.1 51.3,143.1 50.8,143.1 50.3,143.1 49.7,143.1 49.2,143.1 48.7,143.1 48.2,143.0 47.7,143.0 47.2,143.0 46.7,143.0 46.2,143.0 45.6,143.0 45.1,143.0 44.6,143.0 44.1,142.9 43.6,142.9 43.1,142.9 42.6,142.9 42.0,142.9 41.5,142.9 41.0,142.9 40.5,142.9 40.0,142.8 39.5,142.8 39.0,142.8 38.5,142.8 37.9,142.8 37.4,142.8 36.9,142.8 36.4,142.8 35.9,142.7 35.4,142.7 34.9,142.7 34.3,142.7 33.8,142.7 33.3,142.7 32.8,142.7 32.3,142.7 31.8,142.6 31.3,142.6 30.8,142.6" fill="none" stroke="#ff00ff" stroke-width="2.3"/>
</g>
<path d="M30.5,174.5 V7.5 H261.5 V174.5" fill="none" stroke="#5a5a5a" stroke-width="1"/>
<line x1="30" y1="174.5" x2="262" y2="174.5" stroke="#333" stroke-width="1"/>
<line x1="30.50" y1="174.50" x2="30.50" y2="177.50" stroke="#333" stroke-width="1"/>
<text x="30.50" y="193.40" font-size="11.6" text-anchor="middle">410</text>
<line x1="56.50" y1="174.50" x2="56.50" y2="177.50" stroke="#333" stroke-width="1"/>
<text x="56.50" y="193.40" font-size="11.6" text-anchor="middle">408</text>
<line x1="81.50" y1="174.50" x2="81.50" y2="177.50" stroke="#333" stroke-width="1"/>
<text x="81.50" y="193.40" font-size="11.6" text-anchor="middle">406</text>
<line x1="107.50" y1="174.50" x2="107.50" y2="177.50" stroke="#333" stroke-width="1"/>
<text x="107.50" y="193.40" font-size="11.6" text-anchor="middle">404</text>
<line x1="133.50" y1="174.50" x2="133.50" y2="177.50" stroke="#333" stroke-width="1"/>
<text x="133.50" y="193.40" font-size="11.6" text-anchor="middle">402</text>
<line x1="158.50" y1="174.50" x2="158.50" y2="177.50" stroke="#333" stroke-width="1"/>
<text x="158.50" y="193.40" font-size="11.6" text-anchor="middle">400</text>
<line x1="184.50" y1="174.50" x2="184.50" y2="177.50" stroke="#333" stroke-width="1"/>
<text x="184.50" y="193.40" font-size="11.6" text-anchor="middle">398</text>
<line x1="210.50" y1="174.50" x2="210.50" y2="177.50" stroke="#333" stroke-width="1"/>
<text x="210.50" y="193.40" font-size="11.6" text-anchor="middle">396</text>
<line x1="235.50" y1="174.50" x2="235.50" y2="177.50" stroke="#333" stroke-width="1"/>
<text x="235.50" y="193.40" font-size="11.6" text-anchor="middle">394</text>
<line x1="261.50" y1="174.50" x2="261.50" y2="177.50" stroke="#333" stroke-width="1"/>
<text x="261.50" y="193.40" font-size="11.6" text-anchor="middle">392</text>
<text x="39" y="24.8" font-size="11.6" font-weight="bold">Fresh Pd/N-AC catalyst</text>
<text x="146.3" y="215" font-size="14.2" font-weight="bold" text-anchor="middle">Binding Energy (eV)</text>
<text transform="translate(16,90.6) rotate(-90)" font-size="14.4" font-weight="bold" text-anchor="middle">Intensity (a.u.)</text>
<text x="161.8" y="242.6" font-size="12.3" font-weight="bold" font-family="Liberation Serif, serif" text-anchor="middle"><tspan font-weight="normal">(</tspan>a<tspan font-weight="normal">)</tspan></text>
<clipPath id="cb"><rect x="304" y="5" width="233" height="169"/></clipPath>
<g clip-path="url(#cb)">
<path d="M533.1,158.9 531.8,168.0 530.5,146.9 529.2,165.4 527.9,157.4 526.6,149.7 525.3,148.0 524.1,145.2 522.8,150.3 521.5,158.8 520.2,159.4 518.9,159.9 517.6,143.8 516.3,140.4 515.0,161.7 513.7,161.9 512.4,171.1 511.1,166.4 509.8,149.2 508.5,161.0 507.2,159.4 505.9,155.7 504.6,147.6 503.3,151.4 502.0,151.4 500.8,158.2 499.5,154.0 498.2,163.7 496.9,149.8 495.6,155.3 494.3,157.3 493.0,147.6 491.7,143.6 490.4,158.1 489.1,158.6 487.8,153.7 486.5,156.2 485.2,149.2 483.9,154.0 482.6,148.7 481.3,152.7 480.0,158.9 478.7,150.4 477.5,156.4 476.2,143.7 474.9,144.1 473.6,135.5 472.3,139.5 471.0,138.3 469.7,132.9 468.4,127.0 467.1,127.2 465.8,121.1 464.5,105.0 463.2,103.8 461.9,88.0 460.6,82.0 459.3,77.5 458.0,73.0 456.7,62.3 455.4,57.0 454.2,56.4 452.9,51.2 451.6,49.2 450.3,54.5 449.0,57.3 447.7,54.2 446.4,54.4 445.1,54.2 443.8,52.1 442.5,50.6 441.2,47.3 439.9,52.6 438.6,49.6 437.3,47.7 436.0,47.8 434.7,48.8 433.4,53.2 432.1,48.0 430.9,46.6 429.6,49.8 428.3,47.1 427.0,56.4 425.7,58.3 424.4,59.3 423.1,57.8 421.8,63.9 420.5,69.5 419.2,72.2 417.9,73.6 416.6,72.8 415.3,86.6 414.0,89.5 412.7,93.6 411.4,104.4 410.1,108.1 408.8,106.0 407.6,112.6 406.3,115.9 405.0,124.8 403.7,116.0 402.4,123.0 401.1,127.7 399.8,138.9 398.5,127.8 397.2,115.3 395.9,122.3 394.6,134.7 393.3,141.7 392.0,149.2 390.7,143.6 389.4,135.2 388.1,143.2 386.8,139.4 385.5,137.1 384.3,138.2 383.0,147.6 381.7,138.0 380.4,135.2 379.1,140.2 377.8,141.7 376.5,137.9 375.2,137.4 373.9,144.9 372.6,152.8 371.3,151.6 370.0,150.9 368.7,154.1 367.4,135.8 366.1,134.3 364.8,138.6 363.5,136.5 362.2,137.1 361.0,143.4 359.7,137.0 358.4,140.5 357.1,132.4 355.8,137.1 354.5,152.1 353.2,144.9 351.9,148.7 350.6,151.5 349.3,144.6 348.0,149.2 346.7,147.6 345.4,150.1 344.1,143.5 342.8,137.1 341.5,138.2 340.2,141.4 338.9,148.9 337.7,147.4 336.4,146.0 335.1,147.4 333.8,156.1 332.5,148.4 331.2,158.9 329.9,145.4 328.6,145.9 327.3,154.5 326.0,154.3 324.7,145.7 323.4,147.7 322.1,144.6 320.8,153.0 319.5,153.5 318.2,146.1 316.9,151.0 315.6,147.6 314.4,148.8 313.1,149.6 311.8,146.0 310.5,151.1 309.2,152.6 307.9,152.6 306.6,156.6 305.3,149.3 304.0,140.5" fill="none" stroke="#111" stroke-width="1.00" stroke-linejoin="round"/>
<path d="M533.1,156.2 532.6,156.2 532.1,156.2 531.6,156.2 531.0,156.2 530.5,156.1 530.0,156.1 529.5,156.1 529.0,156.1 528.5,156.1 527.9,156.1 527.4,156.1 526.9,156.1 526.4,156.0 525.9,156.0 525.3,156.0 524.8,156.0 524.3,156.0 523.8,156.0 523.3,156.0 522.8,155.9 522.2,155.9 521.7,155.9 521.2,155.9 520.7,155.9 520.2,155.9 519.7,155.8 519.1,155.8 518.6,155.8 518.1,155.8 517.6,155.8 517.1,155.8 516.5,155.8 516.0,155.7 515.5,155.7 515.0,155.7 514.5,155.7 514.0,155.7 513.4,155.7 512.9,155.6 512.4,155.6 511.9,155.6 511.4,155.6 510.9,155.6 510.3,155.5 509.8,155.5 509.3,155.5 508.8,155.5 508.3,155.5 507.7,155.5 507.2,155.4 506.7,155.4 506.2,155.4 505.7,155.4 505.2,155.4 504.6,155.3 504.1,155.3 503.6,155.3 503.1,155.3 502.6,155.3 502.0,155.2 501.5,155.2 501.0,155.2 500.5,155.2 500.0,155.1 499.5,155.1 498.9,155.1 498.4,155.1 497.9,155.1 497.4,155.0 496.9,155.0 496.4,155.0 495.8,155.0 495.3,154.9 494.8,154.9 494.3,154.9 493.8,154.8 493.2,154.8 492.7,154.8 492.2,154.8 491.7,154.7 491.2,154.7 490.7,154.7 490.1,154.6 489.6,154.6 489.1,154.5 488.6,154.5 488.1,154.5 487.6,154.4 487.0,154.4 486.5,154.3 486.0,154.3 485.5,154.2 485.0,154.1 484.4,154.0 483.9,153.9 483.4,153.8 482.9,153.7 482.4,153.6 481.9,153.5 481.3,153.3 480.8,153.1 480.3,152.9 479.8,152.7 479.3,152.4 478.7,152.1 478.2,151.8 477.7,151.4 477.2,150.9 476.7,150.4 476.2,149.9 475.6,149.3 475.1,148.6 474.6,147.8 474.1,147.0 473.6,146.0 473.1,145.0 472.5,143.8 472.0,142.6 471.5,141.2 471.0,139.7 470.5,138.1 469.9,136.4 469.4,134.5 468.9,132.6 468.4,130.4 467.9,128.2 467.4,125.8 466.8,123.3 466.3,120.7 465.8,118.0 465.3,115.1 464.8,112.2 464.3,109.2 463.7,106.2 463.2,103.1 462.7,99.9 462.2,96.8 461.7,93.6 461.1,90.5 460.6,87.4 460.1,84.3 459.6,81.4 459.1,78.5 458.6,75.8 458.0,73.2 457.5,70.7 457.0,68.4 456.5,66.3 456.0,64.4 455.4,62.7 454.9,61.2 454.4,59.9 453.9,58.8 453.4,57.9 452.9,57.2 452.3,56.7 451.8,56.3 451.3,56.1 450.8,56.1 450.3,56.2 449.8,56.3 449.2,56.6 448.7,56.9 448.2,57.3 447.7,57.6 447.2,58.0 446.6,58.4 446.1,58.7 445.6,58.9 445.1,59.1 444.6,59.3 444.1,59.3 443.5,59.3 443.0,59.2 442.5,59.0 442.0,58.7 441.5,58.3 441.0,57.8 440.4,57.3 439.9,56.8 439.4,56.2 438.9,55.6 438.4,55.0 437.8,54.4 437.3,53.9 436.8,53.4 436.3,53.0 435.8,52.6 435.3,52.3 434.7,52.1 434.2,52.0 433.7,51.9 433.2,52.0 432.7,52.0 432.1,52.2 431.6,52.4 431.1,52.7 430.6,53.0 430.1,53.3 429.6,53.7 429.0,54.1 428.5,54.5 428.0,55.0 427.5,55.5 427.0,56.0 426.5,56.5 425.9,57.1 425.4,57.7 424.9,58.4 424.4,59.1 423.9,59.8 423.3,60.6 422.8,61.5 422.3,62.5 421.8,63.5 421.3,64.6 420.8,65.8 420.2,67.0 419.7,68.4 419.2,69.8 418.7,71.4 418.2,73.0 417.7,74.7 417.1,76.5 416.6,78.4 416.1,80.4 415.6,82.4 415.1,84.5 414.5,86.7 414.0,88.9 413.5,91.1 413.0,93.4 412.5,95.7 412.0,98.1 411.4,100.4 410.9,102.7 410.4,105.1 409.9,107.4 409.4,109.6 408.8,111.9 408.3,114.0 407.8,116.2 407.3,118.3 406.8,120.3 406.3,122.2 405.7,124.1 405.2,125.9 404.7,127.6 404.2,129.3 403.7,130.8 403.2,132.3 402.6,133.7 402.1,135.0 401.6,136.2 401.1,137.4 400.6,138.4 400.0,139.4 399.5,140.4 399.0,141.2 398.5,142.0 398.0,142.7 397.5,143.4 396.9,144.0 396.4,144.5 395.9,145.0 395.4,145.5 394.9,145.9 394.4,146.2 393.8,146.6 393.3,146.9 392.8,147.1 392.3,147.4 391.8,147.6 391.2,147.8 390.7,147.9 390.2,148.1 389.7,148.2 389.2,148.3 388.7,148.4 388.1,148.5 387.6,148.6 387.1,148.6 386.6,148.7 386.1,148.7 385.5,148.8 385.0,148.8 384.5,148.9 384.0,148.9 383.5,148.9 383.0,149.0 382.4,149.0 381.9,149.0 381.4,149.0 380.9,149.0 380.4,149.0 379.9,149.0 379.3,149.1 378.8,149.1 378.3,149.1 377.8,149.1 377.3,149.1 376.7,149.1 376.2,149.1 375.7,149.1 375.2,149.1 374.7,149.1 374.2,149.1 373.6,149.1 373.1,149.1 372.6,149.1 372.1,149.1 371.6,149.1 371.1,149.1 370.5,149.1 370.0,149.1 369.5,149.1 369.0,149.1 368.5,149.1 367.9,149.1 367.4,149.1 366.9,149.1 366.4,149.1 365.9,149.1 365.4,149.1 364.8,149.1 364.3,149.1 363.8,149.1 363.3,149.1 362.8,149.1 362.2,149.1 361.7,149.1 361.2,149.1 360.7,149.1 360.2,149.1 359.7,149.1 359.1,149.1 358.6,149.1 358.1,149.1 357.6,149.1 357.1,149.1 356.6,149.1 356.0,149.1 355.5,149.0 355.0,149.0 354.5,149.0 354.0,149.0 353.4,149.0 352.9,149.0 352.4,149.0 351.9,149.0 351.4,149.0 350.9,149.0 350.3,149.0 349.8,149.0 349.3,149.0 348.8,149.0 348.3,149.0 347.8,149.0 347.2,149.0 346.7,149.0 346.2,148.9 345.7,148.9 345.2,148.9 344.6,148.9 344.1,148.9 343.6,148.9 343.1,148.9 342.6,148.9 342.1,148.9 341.5,148.9 341.0,148.9 340.5,148.9 340.0,148.9 339.5,148.9 338.9,148.9 338.4,148.9 337.9,148.8 337.4,148.8 336.9,148.8 336.4,148.8 335.8,148.8 335.3,148.8 334.8,148.8 334.3,148.8 333.8,148.8 333.3,148.8 332.7,148.8 332.2,148.8 331.7,148.8 331.2,148.7 330.7,148.7 330.1,148.7 329.6,148.7 329.1,148.7 328.6,148.7 328.1,148.7 327.6,148.7 327.0,148.7 326.5,148.7 326.0,148.7 325.5,148.7 325.0,148.7 324.5,148.6 323.9,148.6 323.4,148.6 322.9,148.6 322.4,148.6 321.9,148.6 321.3,148.6 320.8,148.6 320.3,148.6 319.8,148.6 319.3,148.6 318.8,148.6 318.2,148.5 317.7,148.5 317.2,148.5 316.7,148.5 316.2,148.5 315.6,148.5 315.1,148.5 314.6,148.5 314.1,148.5 313.6,148.5 313.1,148.5 312.5,148.5 312.0,148.4 311.5,148.4 311.0,148.4 310.5,148.4 310.0,148.4 309.4,148.4 308.9,148.4 308.4,148.4 307.9,148.4 307.4,148.4 306.8,148.4 306.3,148.4 305.8,148.3 305.3,148.3 304.8,148.3 304.3,148.3" fill="none" stroke="#ff0000" stroke-width="2.3"/>
<path d="M533.1,156.5 532.6,156.5 532.1,156.5 531.6,156.5 531.0,156.5 530.5,156.5 530.0,156.5 529.5,156.5 529.0,156.4 528.5,156.4 527.9,156.4 527.4,156.4 526.9,156.4 526.4,156.4 525.9,156.4 525.3,156.4 524.8,156.4 524.3,156.4 523.8,156.3 523.3,156.3 522.8,156.3 522.2,156.3 521.7,156.3 521.2,156.3 520.7,156.3 520.2,156.3 519.7,156.3 519.1,156.3 518.6,156.2 518.1,156.2 517.6,156.2 517.1,156.2 516.5,156.2 516.0,156.2 515.5,156.2 515.0,156.2 514.5,156.2 514.0,156.2 513.4,156.1 512.9,156.1 512.4,156.1 511.9,156.1 511.4,156.1 510.9,156.1 510.3,156.1 509.8,156.1 509.3,156.1 508.8,156.0 508.3,156.0 507.7,156.0 507.2,156.0 506.7,156.0 506.2,156.0 505.7,156.0 505.2,156.0 504.6,156.0 504.1,156.0 503.6,155.9 503.1,155.9 502.6,155.9 502.0,155.9 501.5,155.9 501.0,155.9 500.5,155.9 500.0,155.9 499.5,155.9 498.9,155.9 498.4,155.8 497.9,155.8 497.4,155.8 496.9,155.8 496.4,155.8 495.8,155.8 495.3,155.8 494.8,155.8 494.3,155.8 493.8,155.8 493.2,155.7 492.7,155.7 492.2,155.7 491.7,155.7 491.2,155.7 490.7,155.7 490.1,155.7 489.6,155.7 489.1,155.7 488.6,155.6 488.1,155.6 487.6,155.6 487.0,155.6 486.5,155.6 486.0,155.6 485.5,155.6 485.0,155.6 484.4,155.6 483.9,155.6 483.4,155.5 482.9,155.5 482.4,155.5 481.9,155.5 481.3,155.5 480.8,155.5 480.3,155.5 479.8,155.5 479.3,155.5 478.7,155.4 478.2,155.4 477.7,155.4 477.2,155.4 476.7,155.4 476.2,155.4 475.6,155.4 475.1,155.4 474.6,155.4 474.1,155.3 473.6,155.3 473.1,155.3 472.5,155.3 472.0,155.3 471.5,155.3 471.0,155.3 470.5,155.2 469.9,155.2 469.4,155.2 468.9,155.2 468.4,155.2 467.9,155.2 467.4,155.1 466.8,155.1 466.3,155.1 465.8,155.1 465.3,155.0 464.8,155.0 464.3,155.0 463.7,155.0 463.2,154.9 462.7,154.9 462.2,154.9 461.7,154.8 461.1,154.8 460.6,154.8 460.1,154.7 459.6,154.7 459.1,154.7 458.6,154.6 458.0,154.6 457.5,154.6 457.0,154.5 456.5,154.5 456.0,154.4 455.4,154.4 454.9,154.4 454.4,154.3 453.9,154.3 453.4,154.2 452.9,154.2 452.3,154.1 451.8,154.1 451.3,154.0 450.8,154.0 450.3,154.0 449.8,153.9 449.2,153.9 448.7,153.8 448.2,153.8 447.7,153.7 447.2,153.7 446.6,153.6 446.1,153.6 445.6,153.6 445.1,153.5 444.6,153.5 444.1,153.4 443.5,153.4 443.0,153.3 442.5,153.3 442.0,153.3 441.5,153.2 441.0,153.2 440.4,153.1 439.9,153.1 439.4,153.0 438.9,153.0 438.4,152.9 437.8,152.9 437.3,152.9 436.8,152.8 436.3,152.8 435.8,152.7 435.3,152.7 434.7,152.6 434.2,152.6 433.7,152.5 433.2,152.5 432.7,152.4 432.1,152.4 431.6,152.4 431.1,152.3 430.6,152.3 430.1,152.2 429.6,152.2 429.0,152.1 428.5,152.1 428.0,152.0 427.5,152.0 427.0,152.0 426.5,151.9 425.9,151.9 425.4,151.8 424.9,151.8 424.4,151.7 423.9,151.7 423.3,151.7 422.8,151.6 422.3,151.6 421.8,151.5 421.3,151.5 420.8,151.4 420.2,151.4 419.7,151.4 419.2,151.3 418.7,151.3 418.2,151.3 417.7,151.2 417.1,151.2 416.6,151.1 416.1,151.1 415.6,151.1 415.1,151.0 414.5,151.0 414.0,151.0 413.5,150.9 413.0,150.9 412.5,150.9 412.0,150.9 411.4,150.8 410.9,150.8 410.4,150.8 409.9,150.7 409.4,150.7 408.8,150.7 408.3,150.7 407.8,150.7 407.3,150.6 406.8,150.6 406.3,150.6 405.7,150.6 405.2,150.5 404.7,150.5 404.2,150.5 403.7,150.5 403.2,150.5 402.6,150.5 402.1,150.4 401.6,150.4 401.1,150.4 400.6,150.4 400.0,150.4 399.5,150.4 399.0,150.4 398.5,150.4 398.0,150.3 397.5,150.3 396.9,150.3 396.4,150.3 395.9,150.3 395.4,150.3 394.9,150.3 394.4,150.3 393.8,150.2 393.3,150.2 392.8,150.2 392.3,150.2 391.8,150.2 391.2,150.2 390.7,150.2 390.2,150.2 389.7,150.2 389.2,150.1 388.7,150.1 388.1,150.1 387.6,150.1 387.1,150.1 386.6,150.1 386.1,150.1 385.5,150.1 385.0,150.1 384.5,150.0 384.0,150.0 383.5,150.0 383.0,150.0 382.4,150.0 381.9,150.0 381.4,150.0 380.9,150.0 380.4,150.0 379.9,150.0 379.3,149.9 378.8,149.9 378.3,149.9 377.8,149.9 377.3,149.9 376.7,149.9 376.2,149.9 375.7,149.9 375.2,149.9 374.7,149.9 374.2,149.8 373.6,149.8 373.1,149.8 372.6,149.8 372.1,149.8 371.6,149.8 371.1,149.8 370.5,149.8 370.0,149.8 369.5,149.8 369.0,149.7 368.5,149.7 367.9,149.7 367.4,149.7 366.9,149.7 366.4,149.7 365.9,149.7 365.4,149.7 364.8,149.7 364.3,149.6 363.8,149.6 363.3,149.6 362.8,149.6 362.2,149.6 361.7,149.6 361.2,149.6 360.7,149.6 360.2,149.6 359.7,149.6 359.1,149.5 358.6,149.5 358.1,149.5 357.6,149.5 357.1,149.5 356.6,149.5 356.0,149.5 355.5,149.5 355.0,149.5 354.5,149.5 354.0,149.4 353.4,149.4 352.9,149.4 352.4,149.4 351.9,149.4 351.4,149.4 350.9,149.4 350.3,149.4 349.8,149.4 349.3,149.4 348.8,149.3 348.3,149.3 347.8,149.3 347.2,149.3 346.7,149.3 346.2,149.3 345.7,149.3 345.2,149.3 344.6,149.3 344.1,149.3 343.6,149.2 343.1,149.2 342.6,149.2 342.1,149.2 341.5,149.2 341.0,149.2 340.5,149.2 340.0,149.2 339.5,149.2 338.9,149.2 338.4,149.1 337.9,149.1 337.4,149.1 336.9,149.1 336.4,149.1 335.8,149.1 335.3,149.1 334.8,149.1 334.3,149.1 333.8,149.1 333.3,149.0 332.7,149.0 332.2,149.0 331.7,149.0 331.2,149.0 330.7,149.0 330.1,149.0 329.6,149.0 329.1,149.0 328.6,149.0 328.1,148.9 327.6,148.9 327.0,148.9 326.5,148.9 326.0,148.9 325.5,148.9 325.0,148.9 324.5,148.9 323.9,148.9 323.4,148.9 322.9,148.8 322.4,148.8 321.9,148.8 321.3,148.8 320.8,148.8 320.3,148.8 319.8,148.8 319.3,148.8 318.8,148.8 318.2,148.8 317.7,148.7 317.2,148.7 316.7,148.7 316.2,148.7 315.6,148.7 315.1,148.7 314.6,148.7 314.1,148.7 313.6,148.7 313.1,148.7 312.5,148.6 312.0,148.6 311.5,148.6 311.0,148.6 310.5,148.6 310.0,148.6 309.4,148.6 308.9,148.6 308.4,148.6 307.9,148.6 307.4,148.5 306.8,148.5 306.3,148.5 305.8,148.5 305.3,148.5 304.8,148.5 304.3,148.5" fill="none" stroke="#00ffff" stroke-width="1.4"/>
<path d="M533.1,156.5 532.6,156.5 532.1,156.4 531.6,156.4 531.0,156.4 530.5,156.4 530.0,156.4 529.5,156.4 529.0,156.4 528.5,156.4 527.9,156.4 527.4,156.3 526.9,156.3 526.4,156.3 525.9,156.3 525.3,156.3 524.8,156.3 524.3,156.3 523.8,156.3 523.3,156.3 522.8,156.2 522.2,156.2 521.7,156.2 521.2,156.2 520.7,156.2 520.2,156.2 519.7,156.2 519.1,156.2 518.6,156.2 518.1,156.1 517.6,156.1 517.1,156.1 516.5,156.1 516.0,156.1 515.5,156.1 515.0,156.1 514.5,156.1 514.0,156.0 513.4,156.0 512.9,156.0 512.4,156.0 511.9,156.0 511.4,156.0 510.9,156.0 510.3,156.0 509.8,155.9 509.3,155.9 508.8,155.9 508.3,155.9 507.7,155.9 507.2,155.9 506.7,155.9 506.2,155.9 505.7,155.8 505.2,155.8 504.6,155.8 504.1,155.8 503.6,155.8 503.1,155.8 502.6,155.8 502.0,155.8 501.5,155.7 501.0,155.7 500.5,155.7 500.0,155.7 499.5,155.7 498.9,155.7 498.4,155.7 497.9,155.6 497.4,155.6 496.9,155.6 496.4,155.6 495.8,155.6 495.3,155.6 494.8,155.6 494.3,155.5 493.8,155.5 493.2,155.5 492.7,155.5 492.2,155.5 491.7,155.4 491.2,155.4 490.7,155.4 490.1,155.4 489.6,155.4 489.1,155.3 488.6,155.3 488.1,155.3 487.6,155.3 487.0,155.2 486.5,155.2 486.0,155.1 485.5,155.1 485.0,155.0 484.4,155.0 483.9,154.9 483.4,154.8 482.9,154.7 482.4,154.6 481.9,154.5 481.3,154.4 480.8,154.2 480.3,154.0 479.8,153.8 479.3,153.6 478.7,153.3 478.2,153.0 477.7,152.6 477.2,152.2 476.7,151.7 476.2,151.2 475.6,150.6 475.1,150.0 474.6,149.3 474.1,148.4 473.6,147.5 473.1,146.5 472.5,145.4 472.0,144.2 471.5,142.9 471.0,141.5 470.5,139.9 469.9,138.2 469.4,136.5 468.9,134.5 468.4,132.5 467.9,130.3 467.4,128.0 466.8,125.6 466.3,123.1 465.8,120.5 465.3,117.8 464.8,115.0 464.3,112.1 463.7,109.2 463.2,106.3 462.7,103.3 462.2,100.4 461.7,97.5 461.1,94.6 460.6,91.8 460.1,89.1 459.6,86.5 459.1,84.0 458.6,81.7 458.0,79.6 457.5,77.7 457.0,76.0 456.5,74.6 456.0,73.4 455.4,72.5 454.9,71.8 454.4,71.5 453.9,71.4 453.4,71.7 452.9,72.2 452.3,73.0 451.8,74.0 451.3,75.4 450.8,76.9 450.3,78.7 449.8,80.7 449.2,82.9 448.7,85.3 448.2,87.8 447.7,90.4 447.2,93.1 446.6,95.9 446.1,98.7 445.6,101.6 445.1,104.5 444.6,107.4 444.1,110.2 443.5,113.0 443.0,115.7 442.5,118.4 442.0,120.9 441.5,123.4 441.0,125.8 440.4,128.0 439.9,130.1 439.4,132.1 438.9,134.0 438.4,135.8 437.8,137.4 437.3,138.9 436.8,140.3 436.3,141.6 435.8,142.7 435.3,143.8 434.7,144.7 434.2,145.6 433.7,146.3 433.2,147.0 432.7,147.6 432.1,148.2 431.6,148.6 431.1,149.1 430.6,149.4 430.1,149.7 429.6,150.0 429.0,150.2 428.5,150.4 428.0,150.6 427.5,150.7 427.0,150.8 426.5,150.9 425.9,151.0 425.4,151.0 424.9,151.0 424.4,151.1 423.9,151.1 423.3,151.1 422.8,151.1 422.3,151.1 421.8,151.1 421.3,151.1 420.8,151.1 420.2,151.0 419.7,151.0 419.2,151.0 418.7,151.0 418.2,151.0 417.7,150.9 417.1,150.9 416.6,150.9 416.1,150.9 415.6,150.8 415.1,150.8 414.5,150.8 414.0,150.7 413.5,150.7 413.0,150.7 412.5,150.7 412.0,150.6 411.4,150.6 410.9,150.6 410.4,150.6 409.9,150.6 409.4,150.5 408.8,150.5 408.3,150.5 407.8,150.5 407.3,150.5 406.8,150.4 406.3,150.4 405.7,150.4 405.2,150.4 404.7,150.4 404.2,150.4 403.7,150.4 403.2,150.3 402.6,150.3 402.1,150.3 401.6,150.3 401.1,150.3 400.6,150.3 400.0,150.3 399.5,150.3 399.0,150.2 398.5,150.2 398.0,150.2 397.5,150.2 396.9,150.2 396.4,150.2 395.9,150.2 395.4,150.2 394.9,150.2 394.4,150.1 393.8,150.1 393.3,150.1 392.8,150.1 392.3,150.1 391.8,150.1 391.2,150.1 390.7,150.1 390.2,150.1 389.7,150.1 389.2,150.1 388.7,150.0 388.1,150.0 387.6,150.0 387.1,150.0 386.6,150.0 386.1,150.0 385.5,150.0 385.0,150.0 384.5,150.0 384.0,150.0 383.5,150.0 383.0,149.9 382.4,149.9 381.9,149.9 381.4,149.9 380.9,149.9 380.4,149.9 379.9,149.9 379.3,149.9 378.8,149.9 378.3,149.9 377.8,149.9 377.3,149.8 376.7,149.8 376.2,149.8 375.7,149.8 375.2,149.8 374.7,149.8 374.2,149.8 373.6,149.8 373.1,149.8 372.6,149.8 372.1,149.7 371.6,149.7 371.1,149.7 370.5,149.7 370.0,149.7 369.5,149.7 369.0,149.7 368.5,149.7 367.9,149.7 367.4,149.7 366.9,149.7 366.4,149.6 365.9,149.6 365.4,149.6 364.8,149.6 364.3,149.6 363.8,149.6 363.3,149.6 362.8,149.6 362.2,149.6 361.7,149.6 361.2,149.5 360.7,149.5 360.2,149.5 359.7,149.5 359.1,149.5 358.6,149.5 358.1,149.5 357.6,149.5 357.1,149.5 356.6,149.5 356.0,149.4 355.5,149.4 355.0,149.4 354.5,149.4 354.0,149.4 353.4,149.4 352.9,149.4 352.4,149.4 351.9,149.4 351.4,149.4 350.9,149.4 350.3,149.3 349.8,149.3 349.3,149.3 348.8,149.3 348.3,149.3 347.8,149.3 347.2,149.3 346.7,149.3 346.2,149.3 345.7,149.3 345.2,149.2 344.6,149.2 344.1,149.2 343.6,149.2 343.1,149.2 342.6,149.2 342.1,149.2 341.5,149.2 341.0,149.2 340.5,149.2 340.0,149.1 339.5,149.1 338.9,149.1 338.4,149.1 337.9,149.1 337.4,149.1 336.9,149.1 336.4,149.1 335.8,149.1 335.3,149.1 334.8,149.0 334.3,149.0 333.8,149.0 333.3,149.0 332.7,149.0 332.2,149.0 331.7,149.0 331.2,149.0 330.7,149.0 330.1,149.0 329.6,148.9 329.1,148.9 328.6,148.9 328.1,148.9 327.6,148.9 327.0,148.9 326.5,148.9 326.0,148.9 325.5,148.9 325.0,148.9 324.5,148.8 323.9,148.8 323.4,148.8 322.9,148.8 322.4,148.8 321.9,148.8 321.3,148.8 320.8,148.8 320.3,148.8 319.8,148.8 319.3,148.7 318.8,148.7 318.2,148.7 317.7,148.7 317.2,148.7 316.7,148.7 316.2,148.7 315.6,148.7 315.1,148.7 314.6,148.7 314.1,148.7 313.6,148.6 313.1,148.6 312.5,148.6 312.0,148.6 311.5,148.6 311.0,148.6 310.5,148.6 310.0,148.6 309.4,148.6 308.9,148.6 308.4,148.5 307.9,148.5 307.4,148.5 306.8,148.5 306.3,148.5 305.8,148.5 305.3,148.5 304.8,148.5 304.3,148.5" fill="none" stroke="#0000ff" stroke-width="2.3"/>
<path d="M533.1,156.3 532.6,156.3 532.1,156.3 531.6,156.3 531.0,156.3 530.5,156.2 530.0,156.2 529.5,156.2 529.0,156.2 528.5,156.2 527.9,156.2 527.4,156.2 526.9,156.2 526.4,156.1 525.9,156.1 525.3,156.1 524.8,156.1 524.3,156.1 523.8,156.1 523.3,156.1 522.8,156.0 522.2,156.0 521.7,156.0 521.2,156.0 520.7,156.0 520.2,156.0 519.7,156.0 519.1,155.9 518.6,155.9 518.1,155.9 517.6,155.9 517.1,155.9 516.5,155.9 516.0,155.9 515.5,155.9 515.0,155.8 514.5,155.8 514.0,155.8 513.4,155.8 512.9,155.8 512.4,155.8 511.9,155.7 511.4,155.7 510.9,155.7 510.3,155.7 509.8,155.7 509.3,155.7 508.8,155.7 508.3,155.6 507.7,155.6 507.2,155.6 506.7,155.6 506.2,155.6 505.7,155.6 505.2,155.5 504.6,155.5 504.1,155.5 503.6,155.5 503.1,155.5 502.6,155.5 502.0,155.4 501.5,155.4 501.0,155.4 500.5,155.4 500.0,155.4 499.5,155.4 498.9,155.3 498.4,155.3 497.9,155.3 497.4,155.3 496.9,155.3 496.4,155.2 495.8,155.2 495.3,155.2 494.8,155.2 494.3,155.2 493.8,155.1 493.2,155.1 492.7,155.1 492.2,155.1 491.7,155.0 491.2,155.0 490.7,155.0 490.1,155.0 489.6,155.0 489.1,154.9 488.6,154.9 488.1,154.9 487.6,154.9 487.0,154.8 486.5,154.8 486.0,154.8 485.5,154.8 485.0,154.7 484.4,154.7 483.9,154.7 483.4,154.6 482.9,154.6 482.4,154.6 481.9,154.6 481.3,154.5 480.8,154.5 480.3,154.5 479.8,154.4 479.3,154.4 478.7,154.3 478.2,154.3 477.7,154.3 477.2,154.2 476.7,154.2 476.2,154.2 475.6,154.1 475.1,154.1 474.6,154.0 474.1,154.0 473.6,153.9 473.1,153.9 472.5,153.8 472.0,153.8 471.5,153.7 471.0,153.6 470.5,153.6 469.9,153.5 469.4,153.4 468.9,153.3 468.4,153.3 467.9,153.2 467.4,153.1 466.8,153.0 466.3,152.8 465.8,152.7 465.3,152.6 464.8,152.4 464.3,152.3 463.7,152.1 463.2,151.9 462.7,151.7 462.2,151.4 461.7,151.2 461.1,150.9 460.6,150.6 460.1,150.2 459.6,149.8 459.1,149.4 458.6,148.9 458.0,148.4 457.5,147.8 457.0,147.2 456.5,146.5 456.0,145.8 455.4,145.0 454.9,144.1 454.4,143.1 453.9,142.1 453.4,141.0 452.9,139.8 452.3,138.5 451.8,137.1 451.3,135.6 450.8,134.1 450.3,132.4 449.8,130.7 449.2,128.8 448.7,126.9 448.2,124.9 447.7,122.8 447.2,120.7 446.6,118.5 446.1,116.2 445.6,113.9 445.1,111.6 444.6,109.2 444.1,106.8 443.5,104.5 443.0,102.2 442.5,99.9 442.0,97.6 441.5,95.5 441.0,93.4 440.4,91.5 439.9,89.7 439.4,88.1 438.9,86.7 438.4,85.5 437.8,84.5 437.3,83.7 436.8,83.2 436.3,82.9 435.8,82.9 435.3,83.2 434.7,83.7 434.2,84.4 433.7,85.4 433.2,86.6 432.7,88.0 432.1,89.6 431.6,91.3 431.1,93.2 430.6,95.2 430.1,97.2 429.6,99.4 429.0,101.6 428.5,103.9 428.0,106.1 427.5,108.4 427.0,110.7 426.5,112.9 425.9,115.1 425.4,117.3 424.9,119.4 424.4,121.4 423.9,123.4 423.3,125.3 422.8,127.1 422.3,128.8 421.8,130.5 421.3,132.0 420.8,133.5 420.2,134.8 419.7,136.1 419.2,137.3 418.7,138.4 418.2,139.4 417.7,140.3 417.1,141.2 416.6,142.0 416.1,142.7 415.6,143.3 415.1,143.9 414.5,144.4 414.0,144.9 413.5,145.4 413.0,145.8 412.5,146.1 412.0,146.4 411.4,146.7 410.9,146.9 410.4,147.2 409.9,147.4 409.4,147.5 408.8,147.7 408.3,147.8 407.8,148.0 407.3,148.1 406.8,148.2 406.3,148.3 405.7,148.3 405.2,148.4 404.7,148.5 404.2,148.5 403.7,148.6 403.2,148.6 402.6,148.7 402.1,148.7 401.6,148.8 401.1,148.8 400.6,148.8 400.0,148.9 399.5,148.9 399.0,148.9 398.5,149.0 398.0,149.0 397.5,149.0 396.9,149.0 396.4,149.0 395.9,149.1 395.4,149.1 394.9,149.1 394.4,149.1 393.8,149.1 393.3,149.1 392.8,149.2 392.3,149.2 391.8,149.2 391.2,149.2 390.7,149.2 390.2,149.2 389.7,149.2 389.2,149.2 388.7,149.2 388.1,149.2 387.6,149.3 387.1,149.3 386.6,149.3 386.1,149.3 385.5,149.3 385.0,149.3 384.5,149.3 384.0,149.3 383.5,149.3 383.0,149.3 382.4,149.3 381.9,149.3 381.4,149.3 380.9,149.3 380.4,149.3 379.9,149.3 379.3,149.3 378.8,149.3 378.3,149.3 377.8,149.3 377.3,149.3 376.7,149.3 376.2,149.3 375.7,149.3 375.2,149.3 374.7,149.3 374.2,149.3 373.6,149.3 373.1,149.3 372.6,149.3 372.1,149.3 371.6,149.3 371.1,149.3 370.5,149.3 370.0,149.3 369.5,149.3 369.0,149.3 368.5,149.3 367.9,149.3 367.4,149.3 366.9,149.3 366.4,149.3 365.9,149.3 365.4,149.3 364.8,149.3 364.3,149.2 363.8,149.2 363.3,149.2 362.8,149.2 362.2,149.2 361.7,149.2 361.2,149.2 360.7,149.2 360.2,149.2 359.7,149.2 359.1,149.2 358.6,149.2 358.1,149.2 357.6,149.2 357.1,149.2 356.6,149.2 356.0,149.2 355.5,149.2 355.0,149.2 354.5,149.1 354.0,149.1 353.4,149.1 352.9,149.1 352.4,149.1 351.9,149.1 351.4,149.1 350.9,149.1 350.3,149.1 349.8,149.1 349.3,149.1 348.8,149.1 348.3,149.1 347.8,149.1 347.2,149.1 346.7,149.0 346.2,149.0 345.7,149.0 345.2,149.0 344.6,149.0 344.1,149.0 343.6,149.0 343.1,149.0 342.6,149.0 342.1,149.0 341.5,149.0 341.0,149.0 340.5,149.0 340.0,148.9 339.5,148.9 338.9,148.9 338.4,148.9 337.9,148.9 337.4,148.9 336.9,148.9 336.4,148.9 335.8,148.9 335.3,148.9 334.8,148.9 334.3,148.9 333.8,148.9 333.3,148.8 332.7,148.8 332.2,148.8 331.7,148.8 331.2,148.8 330.7,148.8 330.1,148.8 329.6,148.8 329.1,148.8 328.6,148.8 328.1,148.8 327.6,148.8 327.0,148.7 326.5,148.7 326.0,148.7 325.5,148.7 325.0,148.7 324.5,148.7 323.9,148.7 323.4,148.7 322.9,148.7 322.4,148.7 321.9,148.7 321.3,148.7 320.8,148.6 320.3,148.6 319.8,148.6 319.3,148.6 318.8,148.6 318.2,148.6 317.7,148.6 317.2,148.6 316.7,148.6 316.2,148.6 315.6,148.6 315.1,148.5 314.6,148.5 314.1,148.5 313.6,148.5 313.1,148.5 312.5,148.5 312.0,148.5 311.5,148.5 311.0,148.5 310.5,148.5 310.0,148.5 309.4,148.4 308.9,148.4 308.4,148.4 307.9,148.4 307.4,148.4 306.8,148.4 306.3,148.4 305.8,148.4 305.3,148.4 304.8,148.4 304.3,148.4" fill="none" stroke="#00ff00" stroke-width="2.3"/>
<path d="M533.1,156.5 532.6,156.5 532.1,156.5 531.6,156.5 531.0,156.5 530.5,156.5 530.0,156.4 529.5,156.4 529.0,156.4 528.5,156.4 527.9,156.4 527.4,156.4 526.9,156.4 526.4,156.4 525.9,156.4 525.3,156.3 524.8,156.3 524.3,156.3 523.8,156.3 523.3,156.3 522.8,156.3 522.2,156.3 521.7,156.3 521.2,156.3 520.7,156.3 520.2,156.2 519.7,156.2 519.1,156.2 518.6,156.2 518.1,156.2 517.6,156.2 517.1,156.2 516.5,156.2 516.0,156.2 515.5,156.1 515.0,156.1 514.5,156.1 514.0,156.1 513.4,156.1 512.9,156.1 512.4,156.1 511.9,156.1 511.4,156.1 510.9,156.1 510.3,156.0 509.8,156.0 509.3,156.0 508.8,156.0 508.3,156.0 507.7,156.0 507.2,156.0 506.7,156.0 506.2,156.0 505.7,155.9 505.2,155.9 504.6,155.9 504.1,155.9 503.6,155.9 503.1,155.9 502.6,155.9 502.0,155.9 501.5,155.9 501.0,155.9 500.5,155.8 500.0,155.8 499.5,155.8 498.9,155.8 498.4,155.8 497.9,155.8 497.4,155.8 496.9,155.8 496.4,155.8 495.8,155.7 495.3,155.7 494.8,155.7 494.3,155.7 493.8,155.7 493.2,155.7 492.7,155.7 492.2,155.7 491.7,155.7 491.2,155.6 490.7,155.6 490.1,155.6 489.6,155.6 489.1,155.6 488.6,155.6 488.1,155.6 487.6,155.6 487.0,155.6 486.5,155.5 486.0,155.5 485.5,155.5 485.0,155.5 484.4,155.5 483.9,155.5 483.4,155.5 482.9,155.5 482.4,155.4 481.9,155.4 481.3,155.4 480.8,155.4 480.3,155.4 479.8,155.4 479.3,155.4 478.7,155.4 478.2,155.3 477.7,155.3 477.2,155.3 476.7,155.3 476.2,155.3 475.6,155.3 475.1,155.3 474.6,155.3 474.1,155.2 473.6,155.2 473.1,155.2 472.5,155.2 472.0,155.2 471.5,155.2 471.0,155.1 470.5,155.1 469.9,155.1 469.4,155.1 468.9,155.1 468.4,155.0 467.9,155.0 467.4,155.0 466.8,155.0 466.3,155.0 465.8,154.9 465.3,154.9 464.8,154.9 464.3,154.8 463.7,154.8 463.2,154.8 462.7,154.7 462.2,154.7 461.7,154.7 461.1,154.6 460.6,154.6 460.1,154.5 459.6,154.5 459.1,154.5 458.6,154.4 458.0,154.3 457.5,154.3 457.0,154.2 456.5,154.2 456.0,154.1 455.4,154.0 454.9,154.0 454.4,153.9 453.9,153.8 453.4,153.7 452.9,153.6 452.3,153.5 451.8,153.4 451.3,153.2 450.8,153.1 450.3,152.9 449.8,152.8 449.2,152.6 448.7,152.4 448.2,152.1 447.7,151.9 447.2,151.6 446.6,151.3 446.1,150.9 445.6,150.5 445.1,150.1 444.6,149.7 444.1,149.1 443.5,148.6 443.0,148.0 442.5,147.3 442.0,146.6 441.5,145.8 441.0,145.0 440.4,144.0 439.9,143.1 439.4,142.0 438.9,140.9 438.4,139.7 437.8,138.4 437.3,137.0 436.8,135.5 436.3,134.0 435.8,132.4 435.3,130.7 434.7,129.0 434.2,127.2 433.7,125.3 433.2,123.3 432.7,121.3 432.1,119.3 431.6,117.2 431.1,115.1 430.6,113.0 430.1,110.8 429.6,108.7 429.0,106.6 428.5,104.5 428.0,102.4 427.5,100.4 427.0,98.4 426.5,96.5 425.9,94.8 425.4,93.1 424.9,91.5 424.4,90.0 423.9,88.7 423.3,87.5 422.8,86.5 422.3,85.7 421.8,85.0 421.3,84.5 420.8,84.1 420.2,84.0 419.7,84.0 419.2,84.2 418.7,84.6 418.2,85.2 417.7,85.9 417.1,86.8 416.6,87.9 416.1,89.1 415.6,90.4 415.1,91.9 414.5,93.5 414.0,95.2 413.5,96.9 413.0,98.8 412.5,100.7 412.0,102.7 411.4,104.7 410.9,106.8 410.4,108.8 409.9,110.9 409.4,113.0 408.8,115.0 408.3,117.0 407.8,119.0 407.3,121.0 406.8,122.9 406.3,124.7 405.7,126.5 405.2,128.2 404.7,129.8 404.2,131.4 403.7,132.9 403.2,134.3 402.6,135.6 402.1,136.8 401.6,138.0 401.1,139.1 400.6,140.1 400.0,141.1 399.5,142.0 399.0,142.8 398.5,143.5 398.0,144.2 397.5,144.8 396.9,145.4 396.4,145.9 395.9,146.4 395.4,146.8 394.9,147.2 394.4,147.5 393.8,147.8 393.3,148.1 392.8,148.3 392.3,148.5 391.8,148.7 391.2,148.8 390.7,149.0 390.2,149.1 389.7,149.2 389.2,149.3 388.7,149.4 388.1,149.5 387.6,149.5 387.1,149.6 386.6,149.6 386.1,149.6 385.5,149.7 385.0,149.7 384.5,149.7 384.0,149.7 383.5,149.7 383.0,149.7 382.4,149.8 381.9,149.8 381.4,149.8 380.9,149.8 380.4,149.8 379.9,149.8 379.3,149.8 378.8,149.8 378.3,149.8 377.8,149.7 377.3,149.7 376.7,149.7 376.2,149.7 375.7,149.7 375.2,149.7 374.7,149.7 374.2,149.7 373.6,149.7 373.1,149.7 372.6,149.7 372.1,149.7 371.6,149.7 371.1,149.7 370.5,149.7 370.0,149.6 369.5,149.6 369.0,149.6 368.5,149.6 367.9,149.6 367.4,149.6 366.9,149.6 366.4,149.6 365.9,149.6 365.4,149.6 364.8,149.6 364.3,149.6 363.8,149.5 363.3,149.5 362.8,149.5 362.2,149.5 361.7,149.5 361.2,149.5 360.7,149.5 360.2,149.5 359.7,149.5 359.1,149.5 358.6,149.5 358.1,149.5 357.6,149.4 357.1,149.4 356.6,149.4 356.0,149.4 355.5,149.4 355.0,149.4 354.5,149.4 354.0,149.4 353.4,149.4 352.9,149.4 352.4,149.4 351.9,149.3 351.4,149.3 350.9,149.3 350.3,149.3 349.8,149.3 349.3,149.3 348.8,149.3 348.3,149.3 347.8,149.3 347.2,149.3 346.7,149.2 346.2,149.2 345.7,149.2 345.2,149.2 344.6,149.2 344.1,149.2 343.6,149.2 343.1,149.2 342.6,149.2 342.1,149.2 341.5,149.2 341.0,149.1 340.5,149.1 340.0,149.1 339.5,149.1 338.9,149.1 338.4,149.1 337.9,149.1 337.4,149.1 336.9,149.1 336.4,149.1 335.8,149.1 335.3,149.0 334.8,149.0 334.3,149.0 333.8,149.0 333.3,149.0 332.7,149.0 332.2,149.0 331.7,149.0 331.2,149.0 330.7,149.0 330.1,148.9 329.6,148.9 329.1,148.9 328.6,148.9 328.1,148.9 327.6,148.9 327.0,148.9 326.5,148.9 326.0,148.9 325.5,148.9 325.0,148.8 324.5,148.8 323.9,148.8 323.4,148.8 322.9,148.8 322.4,148.8 321.9,148.8 321.3,148.8 320.8,148.8 320.3,148.8 319.8,148.8 319.3,148.7 318.8,148.7 318.2,148.7 317.7,148.7 317.2,148.7 316.7,148.7 316.2,148.7 315.6,148.7 315.1,148.7 314.6,148.7 314.1,148.6 313.6,148.6 313.1,148.6 312.5,148.6 312.0,148.6 311.5,148.6 311.0,148.6 310.5,148.6 310.0,148.6 309.4,148.6 308.9,148.5 308.4,148.5 307.9,148.5 307.4,148.5 306.8,148.5 306.3,148.5 305.8,148.5 305.3,148.5 304.8,148.5 304.3,148.5" fill="none" stroke="#ff00ff" stroke-width="2.3"/>
</g>
<path d="M304,174 V5 H537 V174" fill="none" stroke="#8a8a8a" stroke-width="1.5"/>
<line x1="304" y1="5" x2="304" y2="174" stroke="#6a6a6a" stroke-width="1.4"/>
<line x1="303.5" y1="174" x2="537.5" y2="174" stroke="#999" stroke-width="1.8"/>
<line x1="304.50" y1="174.50" x2="304.50" y2="177.50" stroke="#333" stroke-width="1"/>
<text x="304.50" y="192.80" font-size="11.6" text-anchor="middle">410</text>
<line x1="329.50" y1="174.50" x2="329.50" y2="177.50" stroke="#333" stroke-width="1"/>
<text x="329.50" y="192.80" font-size="11.6" text-anchor="middle">408</text>
<line x1="355.50" y1="174.50" x2="355.50" y2="177.50" stroke="#333" stroke-width="1"/>
<text x="355.50" y="192.80" font-size="11.6" text-anchor="middle">406</text>
<line x1="381.50" y1="174.50" x2="381.50" y2="177.50" stroke="#333" stroke-width="1"/>
<text x="381.50" y="192.80" font-size="11.6" text-anchor="middle">404</text>
<line x1="407.50" y1="174.50" x2="407.50" y2="177.50" stroke="#333" stroke-width="1"/>
<text x="407.50" y="192.80" font-size="11.6" text-anchor="middle">402</text>
<line x1="433.50" y1="174.50" x2="433.50" y2="177.50" stroke="#333" stroke-width="1"/>
<text x="433.50" y="192.80" font-size="11.6" text-anchor="middle">400</text>
<line x1="459.50" y1="174.50" x2="459.50" y2="177.50" stroke="#333" stroke-width="1"/>
<text x="459.50" y="192.80" font-size="11.6" text-anchor="middle">398</text>
<line x1="485.50" y1="174.50" x2="485.50" y2="177.50" stroke="#333" stroke-width="1"/>
<text x="485.50" y="192.80" font-size="11.6" text-anchor="middle">396</text>
<line x1="511.50" y1="174.50" x2="511.50" y2="177.50" stroke="#333" stroke-width="1"/>
<text x="511.50" y="192.80" font-size="11.6" text-anchor="middle">394</text>
<line x1="537.50" y1="174.50" x2="537.50" y2="177.50" stroke="#333" stroke-width="1"/>
<text x="537.50" y="192.80" font-size="11.6" text-anchor="middle">392</text>
<text x="310.3" y="22.7" font-size="11.85" font-weight="bold">Spent Pd/N-AC catalyst in</text>
<text x="310.3" y="36.3" font-size="11.85" font-weight="bold">hydrodechlorination of R-115</text>
<text x="420" y="215.6" font-size="14.3" font-weight="bold" text-anchor="middle">Binding Energy (eV)</text>
<text transform="translate(290.3,89.5) rotate(-90)" font-size="14.3" font-weight="bold" text-anchor="middle">Intensity (a.u.)</text>
<text x="384.6" y="242.6" font-size="12.3" font-weight="bold" font-family="Liberation Serif, serif" text-anchor="middle"><tspan font-weight="normal">(</tspan>b<tspan font-weight="normal">)</tspan></text>
<clipPath id="cc"><rect x="41.5" y="274" width="224" height="163"/></clipPath>
<g clip-path="url(#cc)">
<path d="M258.5,421.5 257.1,426.1 255.7,428.2 254.3,423.2 252.9,421.0 251.5,419.0 250.1,421.7 248.7,420.9 247.3,423.4 245.9,415.8 244.5,423.5 243.1,422.0 241.7,424.1 240.3,422.5 238.9,421.0 237.5,423.4 236.1,426.1 234.7,423.9 233.3,422.6 231.9,425.0 230.5,420.8 229.1,416.2 227.7,420.1 226.3,418.6 224.9,413.3 223.5,414.2 222.1,415.8 220.7,414.2 219.3,412.2 217.9,416.5 216.5,421.6 215.1,420.6 213.7,418.3 212.3,421.0 210.9,423.5 209.5,421.3 208.1,422.8 206.7,425.0 205.3,421.4 203.9,416.9 202.5,418.0 201.1,417.7 199.7,419.9 198.3,412.6 196.9,410.0 195.5,407.0 194.1,402.1 192.7,403.1 191.3,402.4 189.9,396.4 188.5,395.1 187.1,389.7 185.7,382.4 184.3,373.6 182.9,365.6 181.5,350.8 180.1,343.8 178.7,336.6 177.3,323.2 175.9,319.7 174.5,315.5 173.1,316.3 171.7,313.7 170.3,314.1 168.9,316.1 167.5,314.1 166.1,316.8 164.7,315.7 163.3,315.7 161.9,311.6 160.5,312.8 159.1,311.1 157.7,307.8 156.3,309.0 154.9,313.0 153.5,318.8 152.1,315.0 150.7,322.2 149.3,327.1 147.9,330.7 146.5,332.4 145.1,341.0 143.7,340.5 142.3,346.5 140.9,353.2 139.5,351.2 138.1,354.7 136.7,356.1 135.3,362.6 133.9,370.8 132.5,378.8 131.1,375.0 129.7,377.3 128.3,383.5 126.9,391.2 125.5,392.6 124.1,390.4 122.7,393.6 121.3,394.4 119.9,394.3 118.5,392.6 117.1,396.2 115.7,398.5 114.3,399.0 112.9,398.6 111.5,394.2 110.1,395.1 108.7,402.1 107.3,400.9 105.9,396.0 104.5,403.2 103.1,404.5 101.7,410.6 100.3,406.7 98.9,402.8 97.5,397.3 96.1,404.0 94.7,411.8 93.3,404.7 91.9,401.6 90.5,404.3 89.1,401.0 87.7,400.9 86.3,400.7 84.9,402.4 83.5,406.5 82.1,421.5 80.7,407.2 79.3,404.0 77.9,404.9 76.5,397.9 75.1,396.3 73.7,402.6 72.3,401.7 70.9,404.8 69.5,406.4 68.1,409.8 66.7,410.2 65.3,411.1 63.9,408.9 62.5,406.7 61.1,406.0 59.7,407.0 58.3,405.7 56.9,406.4 55.5,408.2 54.1,410.1 52.7,409.7 51.3,404.9 49.9,408.0 48.5,410.6 47.1,414.7 45.7,415.6 44.3,412.6 42.9,410.7 41.5,417.3" fill="none" stroke="#111" stroke-width="0.90" stroke-linejoin="round"/>
<path d="M258.5,424.1 257.9,424.1 257.4,424.1 256.8,424.1 256.3,424.1 255.7,424.1 255.1,424.0 254.6,424.0 254.0,424.0 253.5,424.0 252.9,424.0 252.3,424.0 251.8,423.9 251.2,423.9 250.7,423.9 250.1,423.9 249.5,423.9 249.0,423.9 248.4,423.8 247.9,423.8 247.3,423.8 246.7,423.8 246.2,423.8 245.6,423.8 245.1,423.7 244.5,423.7 243.9,423.7 243.4,423.7 242.8,423.7 242.3,423.6 241.7,423.6 241.1,423.6 240.6,423.6 240.0,423.6 239.5,423.5 238.9,423.5 238.3,423.5 237.8,423.5 237.2,423.5 236.7,423.4 236.1,423.4 235.5,423.4 235.0,423.4 234.4,423.3 233.9,423.3 233.3,423.3 232.7,423.3 232.2,423.2 231.6,423.2 231.1,423.2 230.5,423.2 229.9,423.1 229.4,423.1 228.8,423.1 228.3,423.1 227.7,423.0 227.1,423.0 226.6,423.0 226.0,422.9 225.5,422.9 224.9,422.9 224.3,422.8 223.8,422.8 223.2,422.8 222.7,422.7 222.1,422.7 221.5,422.7 221.0,422.6 220.4,422.6 219.9,422.5 219.3,422.5 218.7,422.5 218.2,422.4 217.6,422.4 217.1,422.3 216.5,422.3 215.9,422.2 215.4,422.2 214.8,422.1 214.3,422.1 213.7,422.0 213.1,422.0 212.6,421.9 212.0,421.9 211.5,421.8 210.9,421.7 210.3,421.7 209.8,421.6 209.2,421.5 208.7,421.5 208.1,421.4 207.5,421.3 207.0,421.2 206.4,421.1 205.9,421.0 205.3,420.9 204.7,420.8 204.2,420.6 203.6,420.5 203.1,420.3 202.5,420.1 201.9,419.9 201.4,419.7 200.8,419.4 200.3,419.1 199.7,418.8 199.1,418.4 198.6,418.0 198.0,417.5 197.5,417.0 196.9,416.4 196.3,415.7 195.8,415.0 195.2,414.2 194.7,413.2 194.1,412.2 193.5,411.0 193.0,409.8 192.4,408.4 191.9,406.9 191.3,405.2 190.7,403.4 190.2,401.4 189.6,399.3 189.1,397.0 188.5,394.5 187.9,391.9 187.4,389.2 186.8,386.3 186.3,383.2 185.7,380.1 185.1,376.8 184.6,373.4 184.0,369.9 183.5,366.4 182.9,362.8 182.3,359.2 181.8,355.6 181.2,352.1 180.7,348.5 180.1,345.1 179.5,341.8 179.0,338.7 178.4,335.7 177.9,332.9 177.3,330.4 176.7,328.1 176.2,326.0 175.6,324.3 175.1,322.8 174.5,321.6 173.9,320.7 173.4,320.0 172.8,319.6 172.3,319.3 171.7,319.3 171.1,319.4 170.6,319.6 170.0,319.9 169.5,320.2 168.9,320.5 168.3,320.9 167.8,321.1 167.2,321.3 166.7,321.4 166.1,321.3 165.5,321.2 165.0,320.9 164.4,320.5 163.9,320.0 163.3,319.3 162.7,318.5 162.2,317.7 161.6,316.8 161.1,315.9 160.5,315.0 159.9,314.1 159.4,313.2 158.8,312.5 158.3,311.9 157.7,311.5 157.1,311.3 156.6,311.3 156.0,311.5 155.5,311.9 154.9,312.6 154.3,313.5 153.8,314.7 153.2,316.0 152.7,317.5 152.1,319.1 151.5,320.9 151.0,322.7 150.4,324.7 149.9,326.6 149.3,328.6 148.7,330.6 148.2,332.5 147.6,334.5 147.1,336.3 146.5,338.1 145.9,339.8 145.4,341.5 144.8,343.1 144.3,344.6 143.7,346.1 143.1,347.5 142.6,348.9 142.0,350.3 141.5,351.6 140.9,353.0 140.3,354.4 139.8,355.8 139.2,357.2 138.7,358.7 138.1,360.2 137.5,361.8 137.0,363.4 136.4,365.0 135.9,366.7 135.3,368.5 134.7,370.2 134.2,372.0 133.6,373.7 133.1,375.5 132.5,377.2 131.9,379.0 131.4,380.7 130.8,382.4 130.3,384.0 129.7,385.6 129.1,387.2 128.6,388.7 128.0,390.2 127.5,391.6 126.9,392.9 126.3,394.2 125.8,395.5 125.2,396.6 124.7,397.8 124.1,398.8 123.5,399.8 123.0,400.8 122.4,401.7 121.9,402.5 121.3,403.3 120.7,404.0 120.2,404.7 119.6,405.3 119.1,405.9 118.5,406.4 117.9,406.9 117.4,407.4 116.8,407.8 116.3,408.2 115.7,408.5 115.1,408.8 114.6,409.1 114.0,409.4 113.5,409.7 112.9,409.9 112.3,410.1 111.8,410.3 111.2,410.5 110.7,410.6 110.1,410.8 109.5,410.9 109.0,411.0 108.4,411.2 107.9,411.3 107.3,411.4 106.7,411.5 106.2,411.5 105.6,411.6 105.1,411.7 104.5,411.8 103.9,411.8 103.4,411.9 102.8,412.0 102.3,412.0 101.7,412.1 101.1,412.1 100.6,412.2 100.0,412.2 99.5,412.3 98.9,412.3 98.3,412.4 97.8,412.4 97.2,412.4 96.7,412.5 96.1,412.5 95.5,412.5 95.0,412.6 94.4,412.6 93.9,412.6 93.3,412.7 92.7,412.7 92.2,412.7 91.6,412.7 91.1,412.8 90.5,412.8 89.9,412.8 89.4,412.8 88.8,412.8 88.3,412.9 87.7,412.9 87.1,412.9 86.6,412.9 86.0,412.9 85.5,412.9 84.9,413.0 84.3,413.0 83.8,413.0 83.2,413.0 82.7,413.0 82.1,413.0 81.5,413.0 81.0,413.1 80.4,413.1 79.9,413.1 79.3,413.1 78.7,413.1 78.2,413.1 77.6,413.1 77.1,413.1 76.5,413.1 75.9,413.1 75.4,413.1 74.8,413.2 74.3,413.2 73.7,413.2 73.1,413.2 72.6,413.2 72.0,413.2 71.5,413.2 70.9,413.2 70.3,413.2 69.8,413.2 69.2,413.2 68.7,413.2 68.1,413.2 67.5,413.2 67.0,413.2 66.4,413.2 65.9,413.2 65.3,413.2 64.7,413.2 64.2,413.2 63.6,413.2 63.1,413.2 62.5,413.2 61.9,413.2 61.4,413.2 60.8,413.2 60.3,413.2 59.7,413.2 59.1,413.2 58.6,413.2 58.0,413.2 57.5,413.2 56.9,413.2 56.3,413.2 55.8,413.2 55.2,413.2 54.7,413.2 54.1,413.2 53.5,413.2 53.0,413.2 52.4,413.2 51.9,413.2 51.3,413.2 50.7,413.2 50.2,413.2 49.6,413.2 49.1,413.2 48.5,413.2 47.9,413.2 47.4,413.2 46.8,413.2 46.3,413.2 45.7,413.2 45.1,413.2 44.6,413.2 44.0,413.2 43.5,413.2 42.9,413.2 42.3,413.2 41.8,413.2" fill="none" stroke="#ff0000" stroke-width="2.3"/>
<path d="M258.5,424.7 257.9,424.7 257.4,424.7 256.8,424.7 256.3,424.7 255.7,424.7 255.1,424.7 254.6,424.6 254.0,424.6 253.5,424.6 252.9,424.6 252.3,424.6 251.8,424.6 251.2,424.6 250.7,424.6 250.1,424.6 249.5,424.6 249.0,424.6 248.4,424.6 247.9,424.6 247.3,424.5 246.7,424.5 246.2,424.5 245.6,424.5 245.1,424.5 244.5,424.5 243.9,424.5 243.4,424.5 242.8,424.5 242.3,424.5 241.7,424.5 241.1,424.5 240.6,424.4 240.0,424.4 239.5,424.4 238.9,424.4 238.3,424.4 237.8,424.4 237.2,424.4 236.7,424.4 236.1,424.4 235.5,424.4 235.0,424.4 234.4,424.4 233.9,424.3 233.3,424.3 232.7,424.3 232.2,424.3 231.6,424.3 231.1,424.3 230.5,424.3 229.9,424.3 229.4,424.3 228.8,424.3 228.3,424.3 227.7,424.3 227.1,424.2 226.6,424.2 226.0,424.2 225.5,424.2 224.9,424.2 224.3,424.2 223.8,424.2 223.2,424.2 222.7,424.2 222.1,424.2 221.5,424.2 221.0,424.1 220.4,424.1 219.9,424.1 219.3,424.1 218.7,424.1 218.2,424.1 217.6,424.1 217.1,424.1 216.5,424.1 215.9,424.1 215.4,424.1 214.8,424.0 214.3,424.0 213.7,424.0 213.1,424.0 212.6,424.0 212.0,424.0 211.5,424.0 210.9,424.0 210.3,424.0 209.8,424.0 209.2,424.0 208.7,423.9 208.1,423.9 207.5,423.9 207.0,423.9 206.4,423.9 205.9,423.9 205.3,423.9 204.7,423.9 204.2,423.9 203.6,423.9 203.1,423.8 202.5,423.8 201.9,423.8 201.4,423.8 200.8,423.8 200.3,423.8 199.7,423.8 199.1,423.8 198.6,423.8 198.0,423.7 197.5,423.7 196.9,423.7 196.3,423.7 195.8,423.7 195.2,423.7 194.7,423.7 194.1,423.6 193.5,423.6 193.0,423.6 192.4,423.6 191.9,423.6 191.3,423.5 190.7,423.5 190.2,423.5 189.6,423.5 189.1,423.4 188.5,423.4 187.9,423.4 187.4,423.3 186.8,423.3 186.3,423.2 185.7,423.2 185.1,423.2 184.6,423.1 184.0,423.1 183.5,423.0 182.9,422.9 182.3,422.9 181.8,422.8 181.2,422.7 180.7,422.7 180.1,422.6 179.5,422.5 179.0,422.4 178.4,422.4 177.9,422.3 177.3,422.2 176.7,422.1 176.2,422.0 175.6,421.9 175.1,421.8 174.5,421.7 173.9,421.6 173.4,421.5 172.8,421.4 172.3,421.4 171.7,421.3 171.1,421.2 170.6,421.1 170.0,421.0 169.5,420.9 168.9,420.8 168.3,420.7 167.8,420.6 167.2,420.5 166.7,420.4 166.1,420.3 165.5,420.2 165.0,420.1 164.4,420.0 163.9,419.9 163.3,419.8 162.7,419.7 162.2,419.6 161.6,419.6 161.1,419.5 160.5,419.4 159.9,419.3 159.4,419.2 158.8,419.1 158.3,419.0 157.7,418.9 157.1,418.8 156.6,418.7 156.0,418.6 155.5,418.5 154.9,418.4 154.3,418.3 153.8,418.2 153.2,418.1 152.7,418.0 152.1,417.9 151.5,417.8 151.0,417.7 150.4,417.6 149.9,417.5 149.3,417.4 148.7,417.3 148.2,417.3 147.6,417.2 147.1,417.1 146.5,417.0 145.9,417.0 145.4,416.9 144.8,416.8 144.3,416.7 143.7,416.7 143.1,416.6 142.6,416.5 142.0,416.5 141.5,416.4 140.9,416.3 140.3,416.3 139.8,416.2 139.2,416.2 138.7,416.1 138.1,416.0 137.5,416.0 137.0,415.9 136.4,415.9 135.9,415.8 135.3,415.8 134.7,415.7 134.2,415.7 133.6,415.6 133.1,415.6 132.5,415.6 131.9,415.5 131.4,415.5 130.8,415.4 130.3,415.4 129.7,415.4 129.1,415.3 128.6,415.3 128.0,415.3 127.5,415.3 126.9,415.2 126.3,415.2 125.8,415.2 125.2,415.2 124.7,415.1 124.1,415.1 123.5,415.1 123.0,415.1 122.4,415.0 121.9,415.0 121.3,415.0 120.7,415.0 120.2,415.0 119.6,415.0 119.1,414.9 118.5,414.9 117.9,414.9 117.4,414.9 116.8,414.9 116.3,414.9 115.7,414.9 115.1,414.9 114.6,414.8 114.0,414.8 113.5,414.8 112.9,414.8 112.3,414.8 111.8,414.8 111.2,414.8 110.7,414.8 110.1,414.7 109.5,414.7 109.0,414.7 108.4,414.7 107.9,414.7 107.3,414.7 106.7,414.7 106.2,414.7 105.6,414.7 105.1,414.7 104.5,414.6 103.9,414.6 103.4,414.6 102.8,414.6 102.3,414.6 101.7,414.6 101.1,414.6 100.6,414.6 100.0,414.6 99.5,414.6 98.9,414.5 98.3,414.5 97.8,414.5 97.2,414.5 96.7,414.5 96.1,414.5 95.5,414.5 95.0,414.5 94.4,414.5 93.9,414.5 93.3,414.5 92.7,414.4 92.2,414.4 91.6,414.4 91.1,414.4 90.5,414.4 89.9,414.4 89.4,414.4 88.8,414.4 88.3,414.4 87.7,414.4 87.1,414.4 86.6,414.3 86.0,414.3 85.5,414.3 84.9,414.3 84.3,414.3 83.8,414.3 83.2,414.3 82.7,414.3 82.1,414.3 81.5,414.3 81.0,414.3 80.4,414.2 79.9,414.2 79.3,414.2 78.7,414.2 78.2,414.2 77.6,414.2 77.1,414.2 76.5,414.2 75.9,414.2 75.4,414.2 74.8,414.2 74.3,414.2 73.7,414.1 73.1,414.1 72.6,414.1 72.0,414.1 71.5,414.1 70.9,414.1 70.3,414.1 69.8,414.1 69.2,414.1 68.7,414.1 68.1,414.1 67.5,414.1 67.0,414.0 66.4,414.0 65.9,414.0 65.3,414.0 64.7,414.0 64.2,414.0 63.6,414.0 63.1,414.0 62.5,414.0 61.9,414.0 61.4,414.0 60.8,414.0 60.3,414.0 59.7,413.9 59.1,413.9 58.6,413.9 58.0,413.9 57.5,413.9 56.9,413.9 56.3,413.9 55.8,413.9 55.2,413.9 54.7,413.9 54.1,413.9 53.5,413.9 53.0,413.8 52.4,413.8 51.9,413.8 51.3,413.8 50.7,413.8 50.2,413.8 49.6,413.8 49.1,413.8 48.5,413.8 47.9,413.8 47.4,413.8 46.8,413.8 46.3,413.8 45.7,413.7 45.1,413.7 44.6,413.7 44.0,413.7 43.5,413.7 42.9,413.7 42.3,413.7 41.8,413.7" fill="none" stroke="#00ffff" stroke-width="1.4"/>
<path d="M258.5,424.5 257.9,424.5 257.4,424.5 256.8,424.4 256.3,424.4 255.7,424.4 255.1,424.4 254.6,424.4 254.0,424.4 253.5,424.4 252.9,424.4 252.3,424.4 251.8,424.3 251.2,424.3 250.7,424.3 250.1,424.3 249.5,424.3 249.0,424.3 248.4,424.3 247.9,424.3 247.3,424.2 246.7,424.2 246.2,424.2 245.6,424.2 245.1,424.2 244.5,424.2 243.9,424.2 243.4,424.2 242.8,424.1 242.3,424.1 241.7,424.1 241.1,424.1 240.6,424.1 240.0,424.1 239.5,424.1 238.9,424.0 238.3,424.0 237.8,424.0 237.2,424.0 236.7,424.0 236.1,424.0 235.5,423.9 235.0,423.9 234.4,423.9 233.9,423.9 233.3,423.9 232.7,423.9 232.2,423.8 231.6,423.8 231.1,423.8 230.5,423.8 229.9,423.8 229.4,423.8 228.8,423.7 228.3,423.7 227.7,423.7 227.1,423.7 226.6,423.7 226.0,423.6 225.5,423.6 224.9,423.6 224.3,423.6 223.8,423.5 223.2,423.5 222.7,423.5 222.1,423.5 221.5,423.5 221.0,423.4 220.4,423.4 219.9,423.4 219.3,423.3 218.7,423.3 218.2,423.3 217.6,423.3 217.1,423.2 216.5,423.2 215.9,423.2 215.4,423.1 214.8,423.1 214.3,423.1 213.7,423.0 213.1,423.0 212.6,423.0 212.0,422.9 211.5,422.9 210.9,422.8 210.3,422.8 209.8,422.7 209.2,422.7 208.7,422.6 208.1,422.6 207.5,422.5 207.0,422.4 206.4,422.4 205.9,422.3 205.3,422.2 204.7,422.1 204.2,422.0 203.6,421.8 203.1,421.7 202.5,421.5 201.9,421.4 201.4,421.2 200.8,420.9 200.3,420.7 199.7,420.4 199.1,420.1 198.6,419.7 198.0,419.2 197.5,418.8 196.9,418.2 196.3,417.6 195.8,416.9 195.2,416.1 194.7,415.2 194.1,414.2 193.5,413.1 193.0,411.9 192.4,410.6 191.9,409.1 191.3,407.5 190.7,405.7 190.2,403.8 189.6,401.8 189.1,399.5 188.5,397.2 187.9,394.7 187.4,392.0 186.8,389.2 186.3,386.3 185.7,383.2 185.1,380.1 184.6,376.9 184.0,373.5 183.5,370.2 182.9,366.8 182.3,363.4 181.8,360.1 181.2,356.8 180.7,353.6 180.1,350.5 179.5,347.6 179.0,344.9 178.4,342.5 177.9,340.3 177.3,338.4 176.7,336.8 176.2,335.6 175.6,334.7 175.1,334.2 174.5,334.2 173.9,334.5 173.4,335.2 172.8,336.3 172.3,337.7 171.7,339.4 171.1,341.5 170.6,343.8 170.0,346.3 169.5,349.1 168.9,352.0 168.3,355.0 167.8,358.2 167.2,361.3 166.7,364.6 166.1,367.8 165.5,371.0 165.0,374.2 164.4,377.3 163.9,380.3 163.3,383.2 162.7,385.9 162.2,388.6 161.6,391.1 161.1,393.5 160.5,395.7 159.9,397.7 159.4,399.7 158.8,401.4 158.3,403.0 157.7,404.5 157.1,405.9 156.6,407.1 156.0,408.2 155.5,409.1 154.9,410.0 154.3,410.7 153.8,411.4 153.2,412.0 152.7,412.5 152.1,412.9 151.5,413.3 151.0,413.7 150.4,413.9 149.9,414.2 149.3,414.4 148.7,414.5 148.2,414.6 147.6,414.8 147.1,414.8 146.5,414.9 145.9,415.0 145.4,415.0 144.8,415.0 144.3,415.0 143.7,415.1 143.1,415.1 142.6,415.1 142.0,415.0 141.5,415.0 140.9,415.0 140.3,415.0 139.8,415.0 139.2,415.0 138.7,415.0 138.1,414.9 137.5,414.9 137.0,414.9 136.4,414.9 135.9,414.8 135.3,414.8 134.7,414.8 134.2,414.8 133.6,414.8 133.1,414.7 132.5,414.7 131.9,414.7 131.4,414.7 130.8,414.7 130.3,414.6 129.7,414.6 129.1,414.6 128.6,414.6 128.0,414.6 127.5,414.6 126.9,414.6 126.3,414.5 125.8,414.5 125.2,414.5 124.7,414.5 124.1,414.5 123.5,414.5 123.0,414.5 122.4,414.5 121.9,414.5 121.3,414.5 120.7,414.5 120.2,414.5 119.6,414.5 119.1,414.4 118.5,414.4 117.9,414.4 117.4,414.4 116.8,414.4 116.3,414.4 115.7,414.4 115.1,414.4 114.6,414.4 114.0,414.4 113.5,414.4 112.9,414.4 112.3,414.4 111.8,414.4 111.2,414.4 110.7,414.4 110.1,414.4 109.5,414.4 109.0,414.4 108.4,414.4 107.9,414.4 107.3,414.3 106.7,414.3 106.2,414.3 105.6,414.3 105.1,414.3 104.5,414.3 103.9,414.3 103.4,414.3 102.8,414.3 102.3,414.3 101.7,414.3 101.1,414.3 100.6,414.3 100.0,414.3 99.5,414.3 98.9,414.3 98.3,414.3 97.8,414.3 97.2,414.3 96.7,414.2 96.1,414.2 95.5,414.2 95.0,414.2 94.4,414.2 93.9,414.2 93.3,414.2 92.7,414.2 92.2,414.2 91.6,414.2 91.1,414.2 90.5,414.2 89.9,414.2 89.4,414.2 88.8,414.2 88.3,414.2 87.7,414.2 87.1,414.1 86.6,414.1 86.0,414.1 85.5,414.1 84.9,414.1 84.3,414.1 83.8,414.1 83.2,414.1 82.7,414.1 82.1,414.1 81.5,414.1 81.0,414.1 80.4,414.1 79.9,414.1 79.3,414.1 78.7,414.1 78.2,414.0 77.6,414.0 77.1,414.0 76.5,414.0 75.9,414.0 75.4,414.0 74.8,414.0 74.3,414.0 73.7,414.0 73.1,414.0 72.6,414.0 72.0,414.0 71.5,414.0 70.9,414.0 70.3,414.0 69.8,413.9 69.2,413.9 68.7,413.9 68.1,413.9 67.5,413.9 67.0,413.9 66.4,413.9 65.9,413.9 65.3,413.9 64.7,413.9 64.2,413.9 63.6,413.9 63.1,413.9 62.5,413.9 61.9,413.9 61.4,413.8 60.8,413.8 60.3,413.8 59.7,413.8 59.1,413.8 58.6,413.8 58.0,413.8 57.5,413.8 56.9,413.8 56.3,413.8 55.8,413.8 55.2,413.8 54.7,413.8 54.1,413.8 53.5,413.7 53.0,413.7 52.4,413.7 51.9,413.7 51.3,413.7 50.7,413.7 50.2,413.7 49.6,413.7 49.1,413.7 48.5,413.7 47.9,413.7 47.4,413.7 46.8,413.7 46.3,413.7 45.7,413.6 45.1,413.6 44.6,413.6 44.0,413.6 43.5,413.6 42.9,413.6 42.3,413.6 41.8,413.6" fill="none" stroke="#0000ff" stroke-width="2.3"/>
<path d="M258.5,424.5 257.9,424.5 257.4,424.5 256.8,424.5 256.3,424.5 255.7,424.5 255.1,424.5 254.6,424.5 254.0,424.4 253.5,424.4 252.9,424.4 252.3,424.4 251.8,424.4 251.2,424.4 250.7,424.4 250.1,424.4 249.5,424.4 249.0,424.4 248.4,424.3 247.9,424.3 247.3,424.3 246.7,424.3 246.2,424.3 245.6,424.3 245.1,424.3 244.5,424.3 243.9,424.3 243.4,424.2 242.8,424.2 242.3,424.2 241.7,424.2 241.1,424.2 240.6,424.2 240.0,424.2 239.5,424.2 238.9,424.2 238.3,424.1 237.8,424.1 237.2,424.1 236.7,424.1 236.1,424.1 235.5,424.1 235.0,424.1 234.4,424.1 233.9,424.0 233.3,424.0 232.7,424.0 232.2,424.0 231.6,424.0 231.1,424.0 230.5,424.0 229.9,424.0 229.4,423.9 228.8,423.9 228.3,423.9 227.7,423.9 227.1,423.9 226.6,423.9 226.0,423.9 225.5,423.8 224.9,423.8 224.3,423.8 223.8,423.8 223.2,423.8 222.7,423.8 222.1,423.7 221.5,423.7 221.0,423.7 220.4,423.7 219.9,423.7 219.3,423.7 218.7,423.6 218.2,423.6 217.6,423.6 217.1,423.6 216.5,423.6 215.9,423.6 215.4,423.5 214.8,423.5 214.3,423.5 213.7,423.5 213.1,423.5 212.6,423.4 212.0,423.4 211.5,423.4 210.9,423.4 210.3,423.4 209.8,423.3 209.2,423.3 208.7,423.3 208.1,423.3 207.5,423.2 207.0,423.2 206.4,423.2 205.9,423.2 205.3,423.1 204.7,423.1 204.2,423.1 203.6,423.1 203.1,423.0 202.5,423.0 201.9,423.0 201.4,422.9 200.8,422.9 200.3,422.9 199.7,422.8 199.1,422.8 198.6,422.8 198.0,422.7 197.5,422.7 196.9,422.7 196.3,422.6 195.8,422.6 195.2,422.5 194.7,422.5 194.1,422.4 193.5,422.4 193.0,422.3 192.4,422.3 191.9,422.2 191.3,422.1 190.7,422.1 190.2,422.0 189.6,421.9 189.1,421.8 188.5,421.7 187.9,421.6 187.4,421.5 186.8,421.4 186.3,421.3 185.7,421.1 185.1,421.0 184.6,420.8 184.0,420.6 183.5,420.4 182.9,420.2 182.3,419.9 181.8,419.7 181.2,419.3 180.7,419.0 180.1,418.6 179.5,418.2 179.0,417.7 178.4,417.1 177.9,416.5 177.3,415.8 176.7,415.0 176.2,414.2 175.6,413.2 175.1,412.2 174.5,411.0 173.9,409.8 173.4,408.4 172.8,406.8 172.3,405.2 171.7,403.4 171.1,401.4 170.6,399.3 170.0,397.1 169.5,394.7 168.9,392.1 168.3,389.4 167.8,386.6 167.2,383.7 166.7,380.6 166.1,377.4 165.5,374.2 165.0,370.9 164.4,367.5 163.9,364.2 163.3,360.8 162.7,357.5 162.2,354.3 161.6,351.2 161.1,348.3 160.5,345.5 159.9,342.9 159.4,340.6 158.8,338.6 158.3,337.0 157.7,335.7 157.1,334.7 156.6,334.2 156.0,334.1 155.5,334.3 154.9,335.0 154.3,336.1 153.8,337.5 153.2,339.3 152.7,341.3 152.1,343.6 151.5,346.2 151.0,349.0 150.4,351.9 149.9,354.9 149.3,358.0 148.7,361.2 148.2,364.3 147.6,367.5 147.1,370.6 146.5,373.7 145.9,376.7 145.4,379.6 144.8,382.4 144.3,385.1 143.7,387.7 143.1,390.1 142.6,392.3 142.0,394.4 141.5,396.4 140.9,398.2 140.3,399.9 139.8,401.4 139.2,402.8 138.7,404.1 138.1,405.2 137.5,406.2 137.0,407.1 136.4,408.0 135.9,408.7 135.3,409.3 134.7,409.9 134.2,410.4 133.6,410.8 133.1,411.2 132.5,411.5 131.9,411.8 131.4,412.0 130.8,412.3 130.3,412.4 129.7,412.6 129.1,412.7 128.6,412.9 128.0,413.0 127.5,413.1 126.9,413.1 126.3,413.2 125.8,413.3 125.2,413.3 124.7,413.4 124.1,413.4 123.5,413.5 123.0,413.5 122.4,413.5 121.9,413.6 121.3,413.6 120.7,413.6 120.2,413.7 119.6,413.7 119.1,413.7 118.5,413.7 117.9,413.7 117.4,413.8 116.8,413.8 116.3,413.8 115.7,413.8 115.1,413.8 114.6,413.8 114.0,413.8 113.5,413.9 112.9,413.9 112.3,413.9 111.8,413.9 111.2,413.9 110.7,413.9 110.1,413.9 109.5,413.9 109.0,413.9 108.4,413.9 107.9,413.9 107.3,414.0 106.7,414.0 106.2,414.0 105.6,414.0 105.1,414.0 104.5,414.0 103.9,414.0 103.4,414.0 102.8,414.0 102.3,414.0 101.7,414.0 101.1,414.0 100.6,414.0 100.0,414.0 99.5,414.0 98.9,414.0 98.3,414.0 97.8,414.0 97.2,414.0 96.7,414.0 96.1,414.0 95.5,414.0 95.0,414.0 94.4,414.0 93.9,414.0 93.3,414.0 92.7,414.0 92.2,414.0 91.6,414.0 91.1,414.0 90.5,414.0 89.9,414.0 89.4,414.0 88.8,414.0 88.3,414.0 87.7,414.0 87.1,414.0 86.6,414.0 86.0,414.0 85.5,414.0 84.9,414.0 84.3,414.0 83.8,414.0 83.2,414.0 82.7,413.9 82.1,413.9 81.5,413.9 81.0,413.9 80.4,413.9 79.9,413.9 79.3,413.9 78.7,413.9 78.2,413.9 77.6,413.9 77.1,413.9 76.5,413.9 75.9,413.9 75.4,413.9 74.8,413.9 74.3,413.9 73.7,413.9 73.1,413.9 72.6,413.9 72.0,413.9 71.5,413.9 70.9,413.9 70.3,413.9 69.8,413.8 69.2,413.8 68.7,413.8 68.1,413.8 67.5,413.8 67.0,413.8 66.4,413.8 65.9,413.8 65.3,413.8 64.7,413.8 64.2,413.8 63.6,413.8 63.1,413.8 62.5,413.8 61.9,413.8 61.4,413.8 60.8,413.8 60.3,413.8 59.7,413.7 59.1,413.7 58.6,413.7 58.0,413.7 57.5,413.7 56.9,413.7 56.3,413.7 55.8,413.7 55.2,413.7 54.7,413.7 54.1,413.7 53.5,413.7 53.0,413.7 52.4,413.7 51.9,413.7 51.3,413.7 50.7,413.6 50.2,413.6 49.6,413.6 49.1,413.6 48.5,413.6 47.9,413.6 47.4,413.6 46.8,413.6 46.3,413.6 45.7,413.6 45.1,413.6 44.6,413.6 44.0,413.6 43.5,413.6 42.9,413.6 42.3,413.6 41.8,413.5" fill="none" stroke="#00ff00" stroke-width="2.3"/>
<path d="M258.5,424.5 257.9,424.5 257.4,424.5 256.8,424.5 256.3,424.5 255.7,424.5 255.1,424.5 254.6,424.5 254.0,424.5 253.5,424.4 252.9,424.4 252.3,424.4 251.8,424.4 251.2,424.4 250.7,424.4 250.1,424.4 249.5,424.4 249.0,424.4 248.4,424.4 247.9,424.3 247.3,424.3 246.7,424.3 246.2,424.3 245.6,424.3 245.1,424.3 244.5,424.3 243.9,424.3 243.4,424.3 242.8,424.2 242.3,424.2 241.7,424.2 241.1,424.2 240.6,424.2 240.0,424.2 239.5,424.2 238.9,424.2 238.3,424.2 237.8,424.1 237.2,424.1 236.7,424.1 236.1,424.1 235.5,424.1 235.0,424.1 234.4,424.1 233.9,424.1 233.3,424.1 232.7,424.0 232.2,424.0 231.6,424.0 231.1,424.0 230.5,424.0 229.9,424.0 229.4,424.0 228.8,424.0 228.3,423.9 227.7,423.9 227.1,423.9 226.6,423.9 226.0,423.9 225.5,423.9 224.9,423.9 224.3,423.9 223.8,423.8 223.2,423.8 222.7,423.8 222.1,423.8 221.5,423.8 221.0,423.8 220.4,423.8 219.9,423.7 219.3,423.7 218.7,423.7 218.2,423.7 217.6,423.7 217.1,423.7 216.5,423.7 215.9,423.6 215.4,423.6 214.8,423.6 214.3,423.6 213.7,423.6 213.1,423.6 212.6,423.6 212.0,423.5 211.5,423.5 210.9,423.5 210.3,423.5 209.8,423.5 209.2,423.5 208.7,423.4 208.1,423.4 207.5,423.4 207.0,423.4 206.4,423.4 205.9,423.3 205.3,423.3 204.7,423.3 204.2,423.3 203.6,423.3 203.1,423.2 202.5,423.2 201.9,423.2 201.4,423.2 200.8,423.2 200.3,423.1 199.7,423.1 199.1,423.1 198.6,423.1 198.0,423.0 197.5,423.0 196.9,423.0 196.3,423.0 195.8,422.9 195.2,422.9 194.7,422.9 194.1,422.8 193.5,422.8 193.0,422.8 192.4,422.7 191.9,422.7 191.3,422.6 190.7,422.6 190.2,422.6 189.6,422.5 189.1,422.5 188.5,422.4 187.9,422.4 187.4,422.3 186.8,422.2 186.3,422.2 185.7,422.1 185.1,422.0 184.6,421.9 184.0,421.9 183.5,421.8 182.9,421.7 182.3,421.6 181.8,421.5 181.2,421.4 180.7,421.3 180.1,421.2 179.5,421.1 179.0,421.0 178.4,420.8 177.9,420.7 177.3,420.6 176.7,420.4 176.2,420.3 175.6,420.2 175.1,420.0 174.5,419.8 173.9,419.7 173.4,419.5 172.8,419.4 172.3,419.2 171.7,419.0 171.1,418.8 170.6,418.6 170.0,418.4 169.5,418.2 168.9,418.0 168.3,417.8 167.8,417.5 167.2,417.3 166.7,417.0 166.1,416.7 165.5,416.4 165.0,416.1 164.4,415.8 163.9,415.4 163.3,415.0 162.7,414.6 162.2,414.1 161.6,413.6 161.1,413.1 160.5,412.5 159.9,411.9 159.4,411.3 158.8,410.6 158.3,409.8 157.7,409.0 157.1,408.2 156.6,407.3 156.0,406.4 155.5,405.4 154.9,404.3 154.3,403.2 153.8,402.1 153.2,400.8 152.7,399.6 152.1,398.3 151.5,396.9 151.0,395.5 150.4,394.1 149.9,392.6 149.3,391.1 148.7,389.6 148.2,388.1 147.6,386.6 147.1,385.1 146.5,383.5 145.9,382.1 145.4,380.6 144.8,379.3 144.3,378.0 143.7,376.7 143.1,375.6 142.6,374.6 142.0,373.7 141.5,373.0 140.9,372.4 140.3,372.0 139.8,371.8 139.2,371.7 138.7,371.9 138.1,372.2 137.5,372.6 137.0,373.2 136.4,374.0 135.9,374.9 135.3,375.9 134.7,377.0 134.2,378.2 133.6,379.5 133.1,380.8 132.5,382.1 131.9,383.5 131.4,384.9 130.8,386.3 130.3,387.7 129.7,389.1 129.1,390.5 128.6,391.9 128.0,393.2 127.5,394.4 126.9,395.7 126.3,396.9 125.8,398.0 125.2,399.1 124.7,400.1 124.1,401.1 123.5,402.0 123.0,402.9 122.4,403.7 121.9,404.5 121.3,405.2 120.7,405.9 120.2,406.5 119.6,407.1 119.1,407.6 118.5,408.1 117.9,408.6 117.4,409.0 116.8,409.4 116.3,409.7 115.7,410.0 115.1,410.3 114.6,410.6 114.0,410.8 113.5,411.0 112.9,411.2 112.3,411.4 111.8,411.6 111.2,411.7 110.7,411.9 110.1,412.0 109.5,412.1 109.0,412.2 108.4,412.3 107.9,412.4 107.3,412.4 106.7,412.5 106.2,412.6 105.6,412.7 105.1,412.7 104.5,412.8 103.9,412.8 103.4,412.9 102.8,412.9 102.3,412.9 101.7,413.0 101.1,413.0 100.6,413.0 100.0,413.1 99.5,413.1 98.9,413.1 98.3,413.2 97.8,413.2 97.2,413.2 96.7,413.2 96.1,413.3 95.5,413.3 95.0,413.3 94.4,413.3 93.9,413.3 93.3,413.3 92.7,413.4 92.2,413.4 91.6,413.4 91.1,413.4 90.5,413.4 89.9,413.4 89.4,413.4 88.8,413.5 88.3,413.5 87.7,413.5 87.1,413.5 86.6,413.5 86.0,413.5 85.5,413.5 84.9,413.5 84.3,413.5 83.8,413.5 83.2,413.5 82.7,413.5 82.1,413.5 81.5,413.6 81.0,413.6 80.4,413.6 79.9,413.6 79.3,413.6 78.7,413.6 78.2,413.6 77.6,413.6 77.1,413.6 76.5,413.6 75.9,413.6 75.4,413.6 74.8,413.6 74.3,413.6 73.7,413.6 73.1,413.6 72.6,413.6 72.0,413.6 71.5,413.6 70.9,413.6 70.3,413.6 69.8,413.6 69.2,413.6 68.7,413.6 68.1,413.6 67.5,413.6 67.0,413.6 66.4,413.6 65.9,413.6 65.3,413.6 64.7,413.6 64.2,413.6 63.6,413.6 63.1,413.6 62.5,413.6 61.9,413.6 61.4,413.6 60.8,413.6 60.3,413.6 59.7,413.6 59.1,413.6 58.6,413.6 58.0,413.5 57.5,413.5 56.9,413.5 56.3,413.5 55.8,413.5 55.2,413.5 54.7,413.5 54.1,413.5 53.5,413.5 53.0,413.5 52.4,413.5 51.9,413.5 51.3,413.5 50.7,413.5 50.2,413.5 49.6,413.5 49.1,413.5 48.5,413.5 47.9,413.5 47.4,413.5 46.8,413.5 46.3,413.5 45.7,413.5 45.1,413.5 44.6,413.5 44.0,413.4 43.5,413.4 42.9,413.4 42.3,413.4 41.8,413.4" fill="none" stroke="#ff00ff" stroke-width="2.3"/>
</g>
<path d="M41.5,437 V274 H265.5 V437" fill="none" stroke="#666" stroke-width="1.2"/>
<line x1="41" y1="437" x2="266" y2="437" stroke="#777" stroke-width="1.5"/>
<line x1="41.50" y1="437.00" x2="41.50" y2="440.00" stroke="#333" stroke-width="1"/>
<text x="41.50" y="455.40" font-size="11.6" text-anchor="middle">408</text>
<line x1="69.50" y1="437.00" x2="69.50" y2="440.00" stroke="#333" stroke-width="1"/>
<text x="69.50" y="455.40" font-size="11.6" text-anchor="middle">406</text>
<line x1="97.50" y1="437.00" x2="97.50" y2="440.00" stroke="#333" stroke-width="1"/>
<text x="97.50" y="455.40" font-size="11.6" text-anchor="middle">404</text>
<line x1="125.50" y1="437.00" x2="125.50" y2="440.00" stroke="#333" stroke-width="1"/>
<text x="125.50" y="455.40" font-size="11.6" text-anchor="middle">402</text>
<line x1="153.50" y1="437.00" x2="153.50" y2="440.00" stroke="#333" stroke-width="1"/>
<text x="153.50" y="455.40" font-size="11.6" text-anchor="middle">400</text>
<line x1="181.50" y1="437.00" x2="181.50" y2="440.00" stroke="#333" stroke-width="1"/>
<text x="181.50" y="455.40" font-size="11.6" text-anchor="middle">398</text>
<line x1="209.50" y1="437.00" x2="209.50" y2="440.00" stroke="#333" stroke-width="1"/>
<text x="209.50" y="455.40" font-size="11.6" text-anchor="middle">396</text>
<line x1="237.50" y1="437.00" x2="237.50" y2="440.00" stroke="#333" stroke-width="1"/>
<text x="237.50" y="455.40" font-size="11.6" text-anchor="middle">394</text>
<line x1="265.50" y1="437.00" x2="265.50" y2="440.00" stroke="#333" stroke-width="1"/>
<text x="265.50" y="455.40" font-size="11.6" text-anchor="middle">392</text>
<text x="51.5" y="289.1" font-size="11.25" font-weight="bold">Spent Pd/N-AC catalyst in</text>
<text x="51.5" y="302.3" font-size="11.4" font-weight="bold">hydrodechlorination of<tspan x="181.4" font-size="11.3">2,4-DCP</tspan></text>
<text x="154" y="477" font-size="13.8" font-weight="bold" text-anchor="middle">Binding Energy (eV)</text>
<text transform="translate(27.6,355.5) rotate(-90)" font-size="13.7" font-weight="bold" text-anchor="middle">Intensity (a.u.)</text>
<text x="160.6" y="497.1" font-size="12.3" font-weight="bold" font-family="Liberation Serif, serif" text-anchor="middle"><tspan font-weight="normal">(</tspan>c<tspan font-weight="normal">)</tspan></text>
<rect x="321.8" y="320.7" width="15.4" height="109.8" fill="#000"/>
<rect x="338.8" y="328.6" width="15.4" height="101.9" fill="#0000ff"/>
<rect x="356.1" y="394.3" width="15.4" height="36.2" fill="#ff0000"/>
<rect x="381.6" y="344.5" width="15.4" height="86.0" fill="#000"/>
<rect x="398.4" y="328.6" width="15.4" height="101.9" fill="#0000ff"/>
<rect x="415.8" y="397.4" width="15.4" height="33.1" fill="#ff0000"/>
<rect x="441.3" y="391.7" width="15.4" height="38.8" fill="#000"/>
<rect x="457.8" y="386.0" width="15.4" height="44.5" fill="#0000ff"/>
<rect x="475.1" y="397.4" width="15.4" height="33.1" fill="#ff0000"/>
<rect x="312.5" y="276.8" width="213" height="153.7" fill="none" stroke="#111" stroke-width="1.3"/>
<line x1="309.5" y1="430.5" x2="312.5" y2="430.5" stroke="#111" stroke-width="1"/>
<text x="305.2" y="434.5" font-size="10.9" text-anchor="end">0</text>
<line x1="309.5" y1="386.4" x2="312.5" y2="386.4" stroke="#111" stroke-width="1"/>
<text x="305.2" y="390.4" font-size="10.9" text-anchor="end">1</text>
<line x1="309.5" y1="342.3" x2="312.5" y2="342.3" stroke="#111" stroke-width="1"/>
<text x="305.2" y="346.3" font-size="10.9" text-anchor="end">2</text>
<line x1="309.5" y1="298.2" x2="312.5" y2="298.2" stroke="#111" stroke-width="1"/>
<text x="305.2" y="302.2" font-size="10.9" text-anchor="end">3</text>
<rect x="375.5" y="280.8" width="146.2" height="42.2" fill="#fff" stroke="#555" stroke-width="1"/>
<rect x="379.2" y="288.1" width="22.1" height="4.8" fill="#000"/>
<text x="406.9" y="293.6" font-size="9.65">Fresh Pd/N-AC</text>
<rect x="379.2" y="299.7" width="22.1" height="4.8" fill="#0000ff"/>
<text x="406.9" y="305.2" font-size="9.65">Spent Pd/N-AC (2,4-DCP)</text>
<rect x="379.2" y="311.2" width="22.1" height="4.8" fill="#ff0000"/>
<text x="406.9" y="316.7" font-size="9.65">Spent Pd/N-AC (R-115)</text>
<text x="354.2" y="452" font-size="9.2" font-weight="bold" text-anchor="middle">Pyridinic N</text>
<text x="418.2" y="452" font-size="9.2" font-weight="bold" text-anchor="middle">Pyrrolic N</text>
<text x="484.0" y="452" font-size="9.2" font-weight="bold" text-anchor="middle">Graphitic N</text>
<text x="430" y="475.7" font-size="13.2" font-weight="bold" text-anchor="middle">Type of N species</text>
<text transform="translate(291.4,353) rotate(-90)" font-size="11.9" font-weight="bold" text-anchor="middle">Content of N (wt.%)</text>
<text x="383.2" y="497.3" font-size="12.3" font-weight="bold" font-family="Liberation Serif, serif" text-anchor="middle"><tspan font-weight="normal">(</tspan>d<tspan font-weight="normal">)</tspan></text>
</svg></body></html>
